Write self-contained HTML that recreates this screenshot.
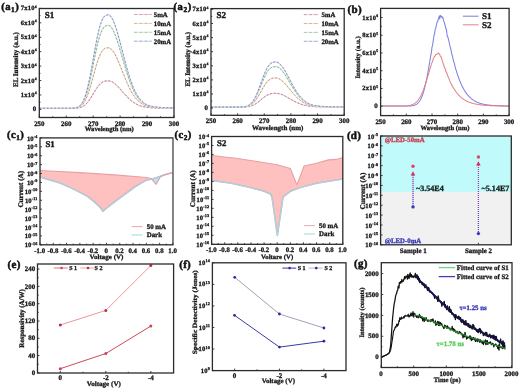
<!DOCTYPE html>
<html><head><meta charset="utf-8"><title>Figure</title>
<style>
html,body{margin:0;padding:0;background:#fff;}
svg{display:block;filter:blur(0.3px);}
svg text{font-family:'Liberation Serif', 'DejaVu Serif', serif;text-rendering:geometricPrecision;}
</style></head>
<body>
<svg width="520" height="389" viewBox="0 0 520 389">
<rect x="0" y="0" width="520" height="389" fill="#ffffff"/>
<polyline points="39.3,108.39 39.97,108.39 40.65,108.39 41.32,108.39 41.99,108.39 42.67,108.39 43.34,108.39 44.01,108.39 44.69,108.39 45.36,108.39 46.03,108.39 46.71,108.39 47.38,108.39 48.06,108.39 48.73,108.39 49.4,108.39 50.08,108.39 50.75,108.39 51.42,108.39 52.1,108.39 52.77,108.39 53.44,108.39 54.12,108.39 54.79,108.39 55.46,108.39 56.14,108.39 56.81,108.39 57.48,108.39 58.16,108.39 58.83,108.39 59.5,108.39 60.18,108.39 60.85,108.39 61.53,108.39 62.2,108.39 62.87,108.39 63.55,108.39 64.22,108.39 64.89,108.39 65.57,108.39 66.24,108.39 66.91,108.39 67.59,108.39 68.26,108.39 68.93,108.38 69.61,108.38 70.28,108.38 70.95,108.37 71.63,108.37 72.3,108.36 72.97,108.34 73.65,108.33 74.32,108.3 75,108.27 75.67,108.23 76.34,108.18 77.02,108.12 77.69,108.03 78.36,107.93 79.04,107.8 79.71,107.65 80.38,107.46 81.06,107.24 81.73,106.97 82.4,106.66 83.08,106.29 83.75,105.87 84.42,105.4 85.1,104.86 85.77,104.26 86.44,103.59 87.12,102.86 87.79,102.07 88.47,101.21 89.14,100.29 89.81,99.32 90.49,98.31 91.16,97.25 91.83,96.17 92.51,95.06 93.18,93.94 93.85,92.81 94.53,91.7 95.2,90.6 95.87,89.53 96.55,88.5 97.22,87.52 97.89,86.59 98.57,85.73 99.24,84.93 99.91,84.21 100.59,83.56 101.26,82.98 101.94,82.48 102.61,82.06 103.28,81.71 103.96,81.43 104.63,81.21 105.3,81.05 105.98,80.94 106.65,80.87 107.32,80.84 108,80.83 108.67,80.84 109.34,80.91 110.02,81.04 110.69,81.24 111.36,81.5 112.04,81.81 112.71,82.18 113.38,82.61 114.06,83.08 114.73,83.6 115.41,84.16 116.08,84.77 116.75,85.4 117.43,86.07 118.1,86.77 118.77,87.49 119.45,88.22 120.12,88.98 120.79,89.74 121.47,90.51 122.14,91.28 122.81,92.05 123.49,92.82 124.16,93.59 124.83,94.34 125.51,95.08 126.18,95.81 126.85,96.52 127.53,97.21 128.2,97.89 128.88,98.54 129.55,99.16 130.22,99.77 130.9,100.35 131.57,100.9 132.24,101.43 132.92,101.93 133.59,102.4 134.26,102.85 134.94,103.27 135.61,103.67 136.28,104.04 136.96,104.39 137.63,104.72 138.3,105.02 138.98,105.3 139.65,105.56 140.32,105.8 141,106.02 141.67,106.23 142.35,106.41 143.02,106.58 143.69,106.74 144.37,106.88 145.04,107.01 145.71,107.13 146.39,107.24 147.06,107.34 147.73,107.42 148.41,107.5 149.08,107.57 149.75,107.64 150.43,107.69 151.1,107.75 151.77,107.79 152.45,107.83 153.12,107.87 153.79,107.91 154.47,107.94 155.14,107.96 155.82,107.99 156.49,108.01 157.16,108.03 157.84,108.05 158.51,108.06 159.18,108.08 159.86,108.09 160.53,108.1 161.2,108.11 161.88,108.12 162.55,108.13 163.22,108.14 163.9,108.15 164.57,108.15 165.24,108.16 165.92,108.17 166.59,108.17 167.26,108.18 167.94,108.18 168.61,108.19 169.29,108.19 169.96,108.2 170.63,108.2 171.31,108.21 171.98,108.21 172.65,108.21 173.33,108.22 174,108.22" fill="none" stroke="#f7d4dc" stroke-width="1.2" stroke-linejoin="round"/>
<polyline points="39.3,108.39 39.97,108.39 40.65,108.39 41.32,108.39 41.99,108.39 42.67,108.39 43.34,108.39 44.01,108.39 44.69,108.39 45.36,108.39 46.03,108.39 46.71,108.39 47.38,108.39 48.06,108.39 48.73,108.39 49.4,108.39 50.08,108.39 50.75,108.39 51.42,108.39 52.1,108.39 52.77,108.39 53.44,108.39 54.12,108.39 54.79,108.39 55.46,108.39 56.14,108.39 56.81,108.39 57.48,108.39 58.16,108.39 58.83,108.39 59.5,108.39 60.18,108.39 60.85,108.39 61.53,108.39 62.2,108.39 62.87,108.39 63.55,108.39 64.22,108.39 64.89,108.39 65.57,108.39 66.24,108.39 66.91,108.39 67.59,108.39 68.26,108.39 68.93,108.38 69.61,108.38 70.28,108.38 70.95,108.37 71.63,108.37 72.3,108.36 72.97,108.34 73.65,108.33 74.32,108.3 75,108.27 75.67,108.23 76.34,108.18 77.02,108.12 77.69,108.03 78.36,107.93 79.04,107.8 79.71,107.65 80.38,107.46 81.06,107.24 81.73,106.97 82.4,106.66 83.08,106.29 83.75,105.87 84.42,105.4 85.1,104.86 85.77,104.26 86.44,103.59 87.12,102.86 87.79,102.07 88.47,101.21 89.14,100.29 89.81,99.32 90.49,98.31 91.16,97.25 91.83,96.17 92.51,95.06 93.18,93.94 93.85,92.81 94.53,91.7 95.2,90.6 95.87,89.53 96.55,88.5 97.22,87.52 97.89,86.59 98.57,85.73 99.24,84.93 99.91,84.21 100.59,83.56 101.26,82.98 101.94,82.48 102.61,82.06 103.28,81.71 103.96,81.43 104.63,81.21 105.3,81.05 105.98,80.94 106.65,80.87 107.32,80.84 108,80.83 108.67,80.84 109.34,80.91 110.02,81.04 110.69,81.24 111.36,81.5 112.04,81.81 112.71,82.18 113.38,82.61 114.06,83.08 114.73,83.6 115.41,84.16 116.08,84.77 116.75,85.4 117.43,86.07 118.1,86.77 118.77,87.49 119.45,88.22 120.12,88.98 120.79,89.74 121.47,90.51 122.14,91.28 122.81,92.05 123.49,92.82 124.16,93.59 124.83,94.34 125.51,95.08 126.18,95.81 126.85,96.52 127.53,97.21 128.2,97.89 128.88,98.54 129.55,99.16 130.22,99.77 130.9,100.35 131.57,100.9 132.24,101.43 132.92,101.93 133.59,102.4 134.26,102.85 134.94,103.27 135.61,103.67 136.28,104.04 136.96,104.39 137.63,104.72 138.3,105.02 138.98,105.3 139.65,105.56 140.32,105.8 141,106.02 141.67,106.23 142.35,106.41 143.02,106.58 143.69,106.74 144.37,106.88 145.04,107.01 145.71,107.13 146.39,107.24 147.06,107.34 147.73,107.42 148.41,107.5 149.08,107.57 149.75,107.64 150.43,107.69 151.1,107.75 151.77,107.79 152.45,107.83 153.12,107.87 153.79,107.91 154.47,107.94 155.14,107.96 155.82,107.99 156.49,108.01 157.16,108.03 157.84,108.05 158.51,108.06 159.18,108.08 159.86,108.09 160.53,108.1 161.2,108.11 161.88,108.12 162.55,108.13 163.22,108.14 163.9,108.15 164.57,108.15 165.24,108.16 165.92,108.17 166.59,108.17 167.26,108.18 167.94,108.18 168.61,108.19 169.29,108.19 169.96,108.2 170.63,108.2 171.31,108.21 171.98,108.21 172.65,108.21 173.33,108.22 174,108.22" fill="none" stroke="#a47c88" stroke-width="1" stroke-linejoin="round" stroke-dasharray="2.0 1.7"/>
<polyline points="39.3,108.39 39.97,108.39 40.65,108.39 41.32,108.39 41.99,108.39 42.67,108.39 43.34,108.39 44.01,108.39 44.69,108.39 45.36,108.39 46.03,108.39 46.71,108.39 47.38,108.39 48.06,108.39 48.73,108.39 49.4,108.39 50.08,108.39 50.75,108.39 51.42,108.39 52.1,108.39 52.77,108.39 53.44,108.39 54.12,108.39 54.79,108.39 55.46,108.39 56.14,108.39 56.81,108.39 57.48,108.39 58.16,108.39 58.83,108.39 59.5,108.39 60.18,108.39 60.85,108.39 61.53,108.39 62.2,108.39 62.87,108.39 63.55,108.39 64.22,108.39 64.89,108.39 65.57,108.39 66.24,108.39 66.91,108.39 67.59,108.38 68.26,108.38 68.93,108.38 69.61,108.37 70.28,108.37 70.95,108.35 71.63,108.34 72.3,108.32 72.97,108.29 73.65,108.25 74.32,108.2 75,108.13 75.67,108.04 76.34,107.93 77.02,107.79 77.69,107.61 78.36,107.38 79.04,107.1 79.71,106.76 80.38,106.34 81.06,105.85 81.73,105.26 82.4,104.58 83.08,103.78 83.75,102.86 84.42,101.81 85.1,100.63 85.77,99.31 86.44,97.84 87.12,96.23 87.79,94.48 88.47,92.6 89.14,90.59 89.81,88.46 90.49,86.22 91.16,83.9 91.83,81.51 92.51,79.07 93.18,76.6 93.85,74.13 94.53,71.68 95.2,69.27 95.87,66.92 96.55,64.66 97.22,62.5 97.89,60.46 98.57,58.56 99.24,56.81 99.91,55.21 100.59,53.78 101.26,52.52 101.94,51.42 102.61,50.49 103.28,49.72 103.96,49.1 104.63,48.62 105.3,48.27 105.98,48.02 106.65,47.88 107.32,47.81 108,47.78 108.67,47.81 109.34,47.96 110.02,48.26 110.69,48.69 111.36,49.25 112.04,49.94 112.71,50.76 113.38,51.69 114.06,52.74 114.73,53.88 115.41,55.12 116.08,56.44 116.75,57.85 117.43,59.32 118.1,60.85 118.77,62.42 119.45,64.04 120.12,65.7 120.79,67.37 121.47,69.07 122.14,70.77 122.81,72.47 123.49,74.16 124.16,75.84 124.83,77.5 125.51,79.13 126.18,80.73 126.85,82.29 127.53,83.81 128.2,85.29 128.88,86.72 129.55,88.1 130.22,89.43 130.9,90.7 131.57,91.92 132.24,93.08 132.92,94.18 133.59,95.22 134.26,96.21 134.94,97.14 135.61,98.01 136.28,98.83 136.96,99.6 137.63,100.31 138.3,100.98 138.98,101.6 139.65,102.17 140.32,102.7 141,103.19 141.67,103.63 142.35,104.04 143.02,104.42 143.69,104.76 144.37,105.08 145.04,105.36 145.71,105.62 146.39,105.86 147.06,106.07 147.73,106.26 148.41,106.44 149.08,106.59 149.75,106.73 150.43,106.86 151.1,106.98 151.77,107.08 152.45,107.17 153.12,107.25 153.79,107.32 154.47,107.39 155.14,107.45 155.82,107.5 156.49,107.55 157.16,107.59 157.84,107.63 158.51,107.67 159.18,107.7 159.86,107.73 160.53,107.75 161.2,107.78 161.88,107.8 162.55,107.82 163.22,107.84 163.9,107.86 164.57,107.87 165.24,107.89 165.92,107.9 166.59,107.91 167.26,107.92 167.94,107.94 168.61,107.95 169.29,107.96 169.96,107.97 170.63,107.98 171.31,107.98 171.98,107.99 172.65,108 173.33,108.01 174,108.02" fill="none" stroke="#fae0cc" stroke-width="1.2" stroke-linejoin="round"/>
<polyline points="39.3,108.39 39.97,108.39 40.65,108.39 41.32,108.39 41.99,108.39 42.67,108.39 43.34,108.39 44.01,108.39 44.69,108.39 45.36,108.39 46.03,108.39 46.71,108.39 47.38,108.39 48.06,108.39 48.73,108.39 49.4,108.39 50.08,108.39 50.75,108.39 51.42,108.39 52.1,108.39 52.77,108.39 53.44,108.39 54.12,108.39 54.79,108.39 55.46,108.39 56.14,108.39 56.81,108.39 57.48,108.39 58.16,108.39 58.83,108.39 59.5,108.39 60.18,108.39 60.85,108.39 61.53,108.39 62.2,108.39 62.87,108.39 63.55,108.39 64.22,108.39 64.89,108.39 65.57,108.39 66.24,108.39 66.91,108.39 67.59,108.38 68.26,108.38 68.93,108.38 69.61,108.37 70.28,108.37 70.95,108.35 71.63,108.34 72.3,108.32 72.97,108.29 73.65,108.25 74.32,108.2 75,108.13 75.67,108.04 76.34,107.93 77.02,107.79 77.69,107.61 78.36,107.38 79.04,107.1 79.71,106.76 80.38,106.34 81.06,105.85 81.73,105.26 82.4,104.58 83.08,103.78 83.75,102.86 84.42,101.81 85.1,100.63 85.77,99.31 86.44,97.84 87.12,96.23 87.79,94.48 88.47,92.6 89.14,90.59 89.81,88.46 90.49,86.22 91.16,83.9 91.83,81.51 92.51,79.07 93.18,76.6 93.85,74.13 94.53,71.68 95.2,69.27 95.87,66.92 96.55,64.66 97.22,62.5 97.89,60.46 98.57,58.56 99.24,56.81 99.91,55.21 100.59,53.78 101.26,52.52 101.94,51.42 102.61,50.49 103.28,49.72 103.96,49.1 104.63,48.62 105.3,48.27 105.98,48.02 106.65,47.88 107.32,47.81 108,47.78 108.67,47.81 109.34,47.96 110.02,48.26 110.69,48.69 111.36,49.25 112.04,49.94 112.71,50.76 113.38,51.69 114.06,52.74 114.73,53.88 115.41,55.12 116.08,56.44 116.75,57.85 117.43,59.32 118.1,60.85 118.77,62.42 119.45,64.04 120.12,65.7 120.79,67.37 121.47,69.07 122.14,70.77 122.81,72.47 123.49,74.16 124.16,75.84 124.83,77.5 125.51,79.13 126.18,80.73 126.85,82.29 127.53,83.81 128.2,85.29 128.88,86.72 129.55,88.1 130.22,89.43 130.9,90.7 131.57,91.92 132.24,93.08 132.92,94.18 133.59,95.22 134.26,96.21 134.94,97.14 135.61,98.01 136.28,98.83 136.96,99.6 137.63,100.31 138.3,100.98 138.98,101.6 139.65,102.17 140.32,102.7 141,103.19 141.67,103.63 142.35,104.04 143.02,104.42 143.69,104.76 144.37,105.08 145.04,105.36 145.71,105.62 146.39,105.86 147.06,106.07 147.73,106.26 148.41,106.44 149.08,106.59 149.75,106.73 150.43,106.86 151.1,106.98 151.77,107.08 152.45,107.17 153.12,107.25 153.79,107.32 154.47,107.39 155.14,107.45 155.82,107.5 156.49,107.55 157.16,107.59 157.84,107.63 158.51,107.67 159.18,107.7 159.86,107.73 160.53,107.75 161.2,107.78 161.88,107.8 162.55,107.82 163.22,107.84 163.9,107.86 164.57,107.87 165.24,107.89 165.92,107.9 166.59,107.91 167.26,107.92 167.94,107.94 168.61,107.95 169.29,107.96 169.96,107.97 170.63,107.98 171.31,107.98 171.98,107.99 172.65,108 173.33,108.01 174,108.02" fill="none" stroke="#b09888" stroke-width="1" stroke-linejoin="round" stroke-dasharray="2.0 1.7"/>
<polyline points="39.3,108.39 39.97,108.39 40.65,108.39 41.32,108.39 41.99,108.39 42.67,108.39 43.34,108.39 44.01,108.39 44.69,108.39 45.36,108.39 46.03,108.39 46.71,108.39 47.38,108.39 48.06,108.39 48.73,108.39 49.4,108.39 50.08,108.39 50.75,108.39 51.42,108.39 52.1,108.39 52.77,108.39 53.44,108.39 54.12,108.39 54.79,108.39 55.46,108.39 56.14,108.39 56.81,108.39 57.48,108.39 58.16,108.39 58.83,108.39 59.5,108.39 60.18,108.39 60.85,108.39 61.53,108.39 62.2,108.39 62.87,108.39 63.55,108.39 64.22,108.39 64.89,108.39 65.57,108.39 66.24,108.39 66.91,108.39 67.59,108.38 68.26,108.38 68.93,108.37 69.61,108.37 70.28,108.36 70.95,108.34 71.63,108.32 72.3,108.29 72.97,108.25 73.65,108.2 74.32,108.13 75,108.04 75.67,107.92 76.34,107.76 77.02,107.56 77.69,107.32 78.36,107.01 79.04,106.62 79.71,106.16 80.38,105.59 81.06,104.91 81.73,104.11 82.4,103.17 83.08,102.08 83.75,100.82 84.42,99.38 85.1,97.76 85.77,95.95 86.44,93.95 87.12,91.75 87.79,89.35 88.47,86.77 89.14,84.01 89.81,81.1 90.49,78.04 91.16,74.86 91.83,71.59 92.51,68.25 93.18,64.87 93.85,61.49 94.53,58.13 95.2,54.83 95.87,51.62 96.55,48.52 97.22,45.56 97.89,42.77 98.57,40.17 99.24,37.77 99.91,35.59 100.59,33.63 101.26,31.9 101.94,30.4 102.61,29.12 103.28,28.07 103.96,27.22 104.63,26.56 105.3,26.08 105.98,25.75 106.65,25.55 107.32,25.45 108,25.42 108.67,25.45 109.34,25.66 110.02,26.07 110.69,26.66 111.36,27.43 112.04,28.38 112.71,29.49 113.38,30.77 114.06,32.2 114.73,33.76 115.41,35.46 116.08,37.27 116.75,39.19 117.43,41.21 118.1,43.3 118.77,45.46 119.45,47.68 120.12,49.94 120.79,52.24 121.47,54.55 122.14,56.88 122.81,59.21 123.49,61.53 124.16,63.82 124.83,66.09 125.51,68.33 126.18,70.52 126.85,72.66 127.53,74.75 128.2,76.77 128.88,78.73 129.55,80.62 130.22,82.43 130.9,84.17 131.57,85.84 132.24,87.42 132.92,88.93 133.59,90.36 134.26,91.71 134.94,92.99 135.61,94.18 136.28,95.3 136.96,96.35 137.63,97.33 138.3,98.24 138.98,99.09 139.65,99.87 140.32,100.6 141,101.26 141.67,101.88 142.35,102.44 143.02,102.96 143.69,103.43 144.37,103.86 145.04,104.25 145.71,104.6 146.39,104.92 147.06,105.22 147.73,105.48 148.41,105.72 149.08,105.93 149.75,106.12 150.43,106.3 151.1,106.45 151.77,106.59 152.45,106.72 153.12,106.83 153.79,106.93 154.47,107.02 155.14,107.1 155.82,107.18 156.49,107.24 157.16,107.3 157.84,107.35 158.51,107.4 159.18,107.45 159.86,107.48 160.53,107.52 161.2,107.55 161.88,107.58 162.55,107.61 163.22,107.63 163.9,107.66 164.57,107.68 165.24,107.7 165.92,107.72 166.59,107.74 167.26,107.75 167.94,107.77 168.61,107.78 169.29,107.8 169.96,107.81 170.63,107.82 171.31,107.83 171.98,107.85 172.65,107.86 173.33,107.87 174,107.88" fill="none" stroke="#d4f3d8" stroke-width="1.2" stroke-linejoin="round"/>
<polyline points="39.3,108.39 39.97,108.39 40.65,108.39 41.32,108.39 41.99,108.39 42.67,108.39 43.34,108.39 44.01,108.39 44.69,108.39 45.36,108.39 46.03,108.39 46.71,108.39 47.38,108.39 48.06,108.39 48.73,108.39 49.4,108.39 50.08,108.39 50.75,108.39 51.42,108.39 52.1,108.39 52.77,108.39 53.44,108.39 54.12,108.39 54.79,108.39 55.46,108.39 56.14,108.39 56.81,108.39 57.48,108.39 58.16,108.39 58.83,108.39 59.5,108.39 60.18,108.39 60.85,108.39 61.53,108.39 62.2,108.39 62.87,108.39 63.55,108.39 64.22,108.39 64.89,108.39 65.57,108.39 66.24,108.39 66.91,108.39 67.59,108.38 68.26,108.38 68.93,108.37 69.61,108.37 70.28,108.36 70.95,108.34 71.63,108.32 72.3,108.29 72.97,108.25 73.65,108.2 74.32,108.13 75,108.04 75.67,107.92 76.34,107.76 77.02,107.56 77.69,107.32 78.36,107.01 79.04,106.62 79.71,106.16 80.38,105.59 81.06,104.91 81.73,104.11 82.4,103.17 83.08,102.08 83.75,100.82 84.42,99.38 85.1,97.76 85.77,95.95 86.44,93.95 87.12,91.75 87.79,89.35 88.47,86.77 89.14,84.01 89.81,81.1 90.49,78.04 91.16,74.86 91.83,71.59 92.51,68.25 93.18,64.87 93.85,61.49 94.53,58.13 95.2,54.83 95.87,51.62 96.55,48.52 97.22,45.56 97.89,42.77 98.57,40.17 99.24,37.77 99.91,35.59 100.59,33.63 101.26,31.9 101.94,30.4 102.61,29.12 103.28,28.07 103.96,27.22 104.63,26.56 105.3,26.08 105.98,25.75 106.65,25.55 107.32,25.45 108,25.42 108.67,25.45 109.34,25.66 110.02,26.07 110.69,26.66 111.36,27.43 112.04,28.38 112.71,29.49 113.38,30.77 114.06,32.2 114.73,33.76 115.41,35.46 116.08,37.27 116.75,39.19 117.43,41.21 118.1,43.3 118.77,45.46 119.45,47.68 120.12,49.94 120.79,52.24 121.47,54.55 122.14,56.88 122.81,59.21 123.49,61.53 124.16,63.82 124.83,66.09 125.51,68.33 126.18,70.52 126.85,72.66 127.53,74.75 128.2,76.77 128.88,78.73 129.55,80.62 130.22,82.43 130.9,84.17 131.57,85.84 132.24,87.42 132.92,88.93 133.59,90.36 134.26,91.71 134.94,92.99 135.61,94.18 136.28,95.3 136.96,96.35 137.63,97.33 138.3,98.24 138.98,99.09 139.65,99.87 140.32,100.6 141,101.26 141.67,101.88 142.35,102.44 143.02,102.96 143.69,103.43 144.37,103.86 145.04,104.25 145.71,104.6 146.39,104.92 147.06,105.22 147.73,105.48 148.41,105.72 149.08,105.93 149.75,106.12 150.43,106.3 151.1,106.45 151.77,106.59 152.45,106.72 153.12,106.83 153.79,106.93 154.47,107.02 155.14,107.1 155.82,107.18 156.49,107.24 157.16,107.3 157.84,107.35 158.51,107.4 159.18,107.45 159.86,107.48 160.53,107.52 161.2,107.55 161.88,107.58 162.55,107.61 163.22,107.63 163.9,107.66 164.57,107.68 165.24,107.7 165.92,107.72 166.59,107.74 167.26,107.75 167.94,107.77 168.61,107.78 169.29,107.8 169.96,107.81 170.63,107.82 171.31,107.83 171.98,107.85 172.65,107.86 173.33,107.87 174,107.88" fill="none" stroke="#84a48a" stroke-width="1" stroke-linejoin="round" stroke-dasharray="2.0 1.7"/>
<polyline points="39.3,108.39 39.97,108.39 40.65,108.39 41.32,108.39 41.99,108.39 42.67,108.39 43.34,108.39 44.01,108.39 44.69,108.39 45.36,108.39 46.03,108.39 46.71,108.39 47.38,108.39 48.06,108.39 48.73,108.39 49.4,108.39 50.08,108.39 50.75,108.39 51.42,108.39 52.1,108.39 52.77,108.39 53.44,108.39 54.12,108.39 54.79,108.39 55.46,108.39 56.14,108.39 56.81,108.39 57.48,108.39 58.16,108.39 58.83,108.39 59.5,108.39 60.18,108.39 60.85,108.39 61.53,108.39 62.2,108.39 62.87,108.39 63.55,108.39 64.22,108.39 64.89,108.39 65.57,108.39 66.24,108.39 66.91,108.38 67.59,108.38 68.26,108.38 68.93,108.37 69.61,108.36 70.28,108.35 70.95,108.34 71.63,108.31 72.3,108.28 72.97,108.23 73.65,108.18 74.32,108.1 75,107.99 75.67,107.86 76.34,107.68 77.02,107.46 77.69,107.18 78.36,106.83 79.04,106.4 79.71,105.87 80.38,105.23 81.06,104.47 81.73,103.57 82.4,102.51 83.08,101.27 83.75,99.86 84.42,98.24 85.1,96.42 85.77,94.38 86.44,92.11 87.12,89.63 87.79,86.93 88.47,84.03 89.14,80.92 89.81,77.63 90.49,74.19 91.16,70.61 91.83,66.92 92.51,63.16 93.18,59.35 93.85,55.54 94.53,51.75 95.2,48.03 95.87,44.41 96.55,40.92 97.22,37.59 97.89,34.44 98.57,31.51 99.24,28.8 99.91,26.34 100.59,24.14 101.26,22.19 101.94,20.49 102.61,19.06 103.28,17.87 103.96,16.91 104.63,16.17 105.3,15.63 105.98,15.25 106.65,15.03 107.32,14.92 108,14.88 108.67,14.92 109.34,15.16 110.02,15.61 110.69,16.28 111.36,17.15 112.04,18.22 112.71,19.48 113.38,20.91 114.06,22.52 114.73,24.29 115.41,26.2 116.08,28.25 116.75,30.41 117.43,32.68 118.1,35.04 118.77,37.47 119.45,39.97 120.12,42.52 120.79,45.11 121.47,47.72 122.14,50.34 122.81,52.97 123.49,55.58 124.16,58.17 124.83,60.73 125.51,63.24 126.18,65.71 126.85,68.12 127.53,70.47 128.2,72.76 128.88,74.96 129.55,77.09 130.22,79.14 130.9,81.1 131.57,82.98 132.24,84.76 132.92,86.46 133.59,88.07 134.26,89.6 134.94,91.03 135.61,92.38 136.28,93.64 136.96,94.83 137.63,95.93 138.3,96.96 138.98,97.91 139.65,98.79 140.32,99.61 141,100.36 141.67,101.05 142.35,101.69 143.02,102.27 143.69,102.8 144.37,103.28 145.04,103.72 145.71,104.12 146.39,104.48 147.06,104.81 147.73,105.11 148.41,105.38 149.08,105.62 149.75,105.84 150.43,106.03 151.1,106.21 151.77,106.36 152.45,106.51 153.12,106.63 153.79,106.75 154.47,106.85 155.14,106.94 155.82,107.02 156.49,107.1 157.16,107.16 157.84,107.22 158.51,107.28 159.18,107.33 159.86,107.37 160.53,107.41 161.2,107.45 161.88,107.48 162.55,107.51 163.22,107.54 163.9,107.57 164.57,107.59 165.24,107.61 165.92,107.63 166.59,107.65 167.26,107.67 167.94,107.69 168.61,107.71 169.29,107.72 169.96,107.74 170.63,107.75 171.31,107.76 171.98,107.78 172.65,107.79 173.33,107.8 174,107.81" fill="none" stroke="#d6dbf6" stroke-width="1.2" stroke-linejoin="round"/>
<polyline points="39.3,108.39 39.97,108.39 40.65,108.39 41.32,108.39 41.99,108.39 42.67,108.39 43.34,108.39 44.01,108.39 44.69,108.39 45.36,108.39 46.03,108.39 46.71,108.39 47.38,108.39 48.06,108.39 48.73,108.39 49.4,108.39 50.08,108.39 50.75,108.39 51.42,108.39 52.1,108.39 52.77,108.39 53.44,108.39 54.12,108.39 54.79,108.39 55.46,108.39 56.14,108.39 56.81,108.39 57.48,108.39 58.16,108.39 58.83,108.39 59.5,108.39 60.18,108.39 60.85,108.39 61.53,108.39 62.2,108.39 62.87,108.39 63.55,108.39 64.22,108.39 64.89,108.39 65.57,108.39 66.24,108.39 66.91,108.38 67.59,108.38 68.26,108.38 68.93,108.37 69.61,108.36 70.28,108.35 70.95,108.34 71.63,108.31 72.3,108.28 72.97,108.23 73.65,108.18 74.32,108.1 75,107.99 75.67,107.86 76.34,107.68 77.02,107.46 77.69,107.18 78.36,106.83 79.04,106.4 79.71,105.87 80.38,105.23 81.06,104.47 81.73,103.57 82.4,102.51 83.08,101.27 83.75,99.86 84.42,98.24 85.1,96.42 85.77,94.38 86.44,92.11 87.12,89.63 87.79,86.93 88.47,84.03 89.14,80.92 89.81,77.63 90.49,74.19 91.16,70.61 91.83,66.92 92.51,63.16 93.18,59.35 93.85,55.54 94.53,51.75 95.2,48.03 95.87,44.41 96.55,40.92 97.22,37.59 97.89,34.44 98.57,31.51 99.24,28.8 99.91,26.34 100.59,24.14 101.26,22.19 101.94,20.49 102.61,19.06 103.28,17.87 103.96,16.91 104.63,16.17 105.3,15.63 105.98,15.25 106.65,15.03 107.32,14.92 108,14.88 108.67,14.92 109.34,15.16 110.02,15.61 110.69,16.28 111.36,17.15 112.04,18.22 112.71,19.48 113.38,20.91 114.06,22.52 114.73,24.29 115.41,26.2 116.08,28.25 116.75,30.41 117.43,32.68 118.1,35.04 118.77,37.47 119.45,39.97 120.12,42.52 120.79,45.11 121.47,47.72 122.14,50.34 122.81,52.97 123.49,55.58 124.16,58.17 124.83,60.73 125.51,63.24 126.18,65.71 126.85,68.12 127.53,70.47 128.2,72.76 128.88,74.96 129.55,77.09 130.22,79.14 130.9,81.1 131.57,82.98 132.24,84.76 132.92,86.46 133.59,88.07 134.26,89.6 134.94,91.03 135.61,92.38 136.28,93.64 136.96,94.83 137.63,95.93 138.3,96.96 138.98,97.91 139.65,98.79 140.32,99.61 141,100.36 141.67,101.05 142.35,101.69 143.02,102.27 143.69,102.8 144.37,103.28 145.04,103.72 145.71,104.12 146.39,104.48 147.06,104.81 147.73,105.11 148.41,105.38 149.08,105.62 149.75,105.84 150.43,106.03 151.1,106.21 151.77,106.36 152.45,106.51 153.12,106.63 153.79,106.75 154.47,106.85 155.14,106.94 155.82,107.02 156.49,107.1 157.16,107.16 157.84,107.22 158.51,107.28 159.18,107.33 159.86,107.37 160.53,107.41 161.2,107.45 161.88,107.48 162.55,107.51 163.22,107.54 163.9,107.57 164.57,107.59 165.24,107.61 165.92,107.63 166.59,107.65 167.26,107.67 167.94,107.69 168.61,107.71 169.29,107.72 169.96,107.74 170.63,107.75 171.31,107.76 171.98,107.78 172.65,107.79 173.33,107.8 174,107.81" fill="none" stroke="#8088ac" stroke-width="1" stroke-linejoin="round" stroke-dasharray="2.0 1.7"/>
<rect x="39.3" y="8.5" width="134.7" height="109" fill="none" stroke="#2b2b2b" stroke-width="1.3"/>
<line x1="39.3" y1="117.5" x2="39.3" y2="115.5" stroke="#2b2b2b" stroke-width="0.9"/>
<line x1="66.24" y1="117.5" x2="66.24" y2="115.5" stroke="#2b2b2b" stroke-width="0.9"/>
<line x1="93.18" y1="117.5" x2="93.18" y2="115.5" stroke="#2b2b2b" stroke-width="0.9"/>
<line x1="120.12" y1="117.5" x2="120.12" y2="115.5" stroke="#2b2b2b" stroke-width="0.9"/>
<line x1="147.06" y1="117.5" x2="147.06" y2="115.5" stroke="#2b2b2b" stroke-width="0.9"/>
<line x1="174" y1="117.5" x2="174" y2="115.5" stroke="#2b2b2b" stroke-width="0.9"/>
<line x1="52.77" y1="117.5" x2="52.77" y2="116.3" stroke="#2b2b2b" stroke-width="0.9"/>
<line x1="79.71" y1="117.5" x2="79.71" y2="116.3" stroke="#2b2b2b" stroke-width="0.9"/>
<line x1="106.65" y1="117.5" x2="106.65" y2="116.3" stroke="#2b2b2b" stroke-width="0.9"/>
<line x1="133.59" y1="117.5" x2="133.59" y2="116.3" stroke="#2b2b2b" stroke-width="0.9"/>
<line x1="160.53" y1="117.5" x2="160.53" y2="116.3" stroke="#2b2b2b" stroke-width="0.9"/>
<line x1="39.3" y1="109.4" x2="41.3" y2="109.4" stroke="#2b2b2b" stroke-width="0.9"/>
<line x1="39.3" y1="94.97" x2="41.3" y2="94.97" stroke="#2b2b2b" stroke-width="0.9"/>
<line x1="39.3" y1="80.54" x2="41.3" y2="80.54" stroke="#2b2b2b" stroke-width="0.9"/>
<line x1="39.3" y1="66.11" x2="41.3" y2="66.11" stroke="#2b2b2b" stroke-width="0.9"/>
<line x1="39.3" y1="51.68" x2="41.3" y2="51.68" stroke="#2b2b2b" stroke-width="0.9"/>
<line x1="39.3" y1="37.25" x2="41.3" y2="37.25" stroke="#2b2b2b" stroke-width="0.9"/>
<line x1="39.3" y1="22.82" x2="41.3" y2="22.82" stroke="#2b2b2b" stroke-width="0.9"/>
<line x1="39.3" y1="8.39" x2="41.3" y2="8.39" stroke="#2b2b2b" stroke-width="0.9"/>
<line x1="39.3" y1="102.19" x2="40.5" y2="102.19" stroke="#2b2b2b" stroke-width="0.9"/>
<line x1="39.3" y1="87.76" x2="40.5" y2="87.76" stroke="#2b2b2b" stroke-width="0.9"/>
<line x1="39.3" y1="73.33" x2="40.5" y2="73.33" stroke="#2b2b2b" stroke-width="0.9"/>
<line x1="39.3" y1="58.9" x2="40.5" y2="58.9" stroke="#2b2b2b" stroke-width="0.9"/>
<line x1="39.3" y1="44.47" x2="40.5" y2="44.47" stroke="#2b2b2b" stroke-width="0.9"/>
<line x1="39.3" y1="30.04" x2="40.5" y2="30.04" stroke="#2b2b2b" stroke-width="0.9"/>
<line x1="39.3" y1="15.61" x2="40.5" y2="15.61" stroke="#2b2b2b" stroke-width="0.9"/>
<text x="39.3" y="125.5" font-size="6.9" text-anchor="middle" fill="#1a1a1a" stroke="#1a1a1a" stroke-width="0.3" font-weight="bold">250</text>
<text x="66.24" y="125.5" font-size="6.9" text-anchor="middle" fill="#1a1a1a" stroke="#1a1a1a" stroke-width="0.3" font-weight="bold">260</text>
<text x="93.18" y="125.5" font-size="6.9" text-anchor="middle" fill="#1a1a1a" stroke="#1a1a1a" stroke-width="0.3" font-weight="bold">270</text>
<text x="120.12" y="125.5" font-size="6.9" text-anchor="middle" fill="#1a1a1a" stroke="#1a1a1a" stroke-width="0.3" font-weight="bold">280</text>
<text x="147.06" y="125.5" font-size="6.9" text-anchor="middle" fill="#1a1a1a" stroke="#1a1a1a" stroke-width="0.3" font-weight="bold">290</text>
<text x="174" y="125.5" font-size="6.9" text-anchor="middle" fill="#1a1a1a" stroke="#1a1a1a" stroke-width="0.3" font-weight="bold">300</text>
<text x="36.3" y="111.4" font-size="6.9" text-anchor="end" fill="#1a1a1a" stroke="#1a1a1a" stroke-width="0.3" font-weight="bold">0</text>
<text x="37" y="96.97" font-size="6.5" text-anchor="end" fill="#1a1a1a" stroke="#1a1a1a" stroke-width="0.3" font-weight="bold" letter-spacing="0.25">1x10<tspan dy="-2.6" font-size="3.8">4</tspan></text>
<text x="37" y="82.54" font-size="6.5" text-anchor="end" fill="#1a1a1a" stroke="#1a1a1a" stroke-width="0.3" font-weight="bold" letter-spacing="0.25">2x10<tspan dy="-2.6" font-size="3.8">4</tspan></text>
<text x="37" y="68.11" font-size="6.5" text-anchor="end" fill="#1a1a1a" stroke="#1a1a1a" stroke-width="0.3" font-weight="bold" letter-spacing="0.25">3x10<tspan dy="-2.6" font-size="3.8">4</tspan></text>
<text x="37" y="53.68" font-size="6.5" text-anchor="end" fill="#1a1a1a" stroke="#1a1a1a" stroke-width="0.3" font-weight="bold" letter-spacing="0.25">4x10<tspan dy="-2.6" font-size="3.8">4</tspan></text>
<text x="37" y="39.25" font-size="6.5" text-anchor="end" fill="#1a1a1a" stroke="#1a1a1a" stroke-width="0.3" font-weight="bold" letter-spacing="0.25">5x10<tspan dy="-2.6" font-size="3.8">4</tspan></text>
<text x="37" y="24.82" font-size="6.5" text-anchor="end" fill="#1a1a1a" stroke="#1a1a1a" stroke-width="0.3" font-weight="bold" letter-spacing="0.25">6x10<tspan dy="-2.6" font-size="3.8">4</tspan></text>
<text x="37" y="10.39" font-size="6.5" text-anchor="end" fill="#1a1a1a" stroke="#1a1a1a" stroke-width="0.3" font-weight="bold" letter-spacing="0.25">7x10<tspan dy="-2.6" font-size="3.8">4</tspan></text>
<text x="109.3" y="131" font-size="6.6" text-anchor="middle" fill="#1a1a1a" stroke="#1a1a1a" stroke-width="0.3" font-weight="bold" textLength="49" lengthAdjust="spacingAndGlyphs">Wavelength (nm)</text>
<text x="18.2" y="59.6" font-size="7.05" text-anchor="middle" fill="#1a1a1a" stroke="#1a1a1a" stroke-width="0.3" font-weight="bold" transform="rotate(-90 18.2 59.6)">EL Intensity (a.u.)</text>
<text x="44.7" y="17.8" font-size="9" text-anchor="start" fill="#1a1a1a" stroke="#1a1a1a" stroke-width="0.4" font-weight="bold">S1</text>
<line x1="134.1" y1="14.5" x2="151.6" y2="14.5" stroke="#f7d4dc" stroke-width="1.1"/>
<line x1="134.1" y1="14.5" x2="151.6" y2="14.5" stroke="#a47c88" stroke-width="0.9" stroke-dasharray="3 2.2" opacity="0.6"/>
<text x="153.8" y="16.9" font-size="6.8" text-anchor="start" fill="#1a1a1a" stroke="#1a1a1a" stroke-width="0.3" font-weight="bold">5mA</text>
<line x1="134.1" y1="23.4" x2="151.6" y2="23.4" stroke="#fae0cc" stroke-width="1.1"/>
<line x1="134.1" y1="23.4" x2="151.6" y2="23.4" stroke="#b09888" stroke-width="0.9" stroke-dasharray="3 2.2" opacity="0.6"/>
<text x="153.8" y="25.8" font-size="6.8" text-anchor="start" fill="#1a1a1a" stroke="#1a1a1a" stroke-width="0.3" font-weight="bold">10mA</text>
<line x1="134.1" y1="32.3" x2="151.6" y2="32.3" stroke="#d4f3d8" stroke-width="1.1"/>
<line x1="134.1" y1="32.3" x2="151.6" y2="32.3" stroke="#84a48a" stroke-width="0.9" stroke-dasharray="3 2.2" opacity="0.6"/>
<text x="153.8" y="34.7" font-size="6.8" text-anchor="start" fill="#1a1a1a" stroke="#1a1a1a" stroke-width="0.3" font-weight="bold">15mA</text>
<line x1="134.1" y1="41.2" x2="151.6" y2="41.2" stroke="#d6dbf6" stroke-width="1.1"/>
<line x1="134.1" y1="41.2" x2="151.6" y2="41.2" stroke="#8088ac" stroke-width="0.9" stroke-dasharray="3 2.2" opacity="0.6"/>
<text x="153.8" y="43.6" font-size="6.8" text-anchor="start" fill="#1a1a1a" stroke="#1a1a1a" stroke-width="0.3" font-weight="bold">20mA</text>
<polyline points="211,107.11 211.67,107.11 212.33,107.11 213,107.11 213.66,107.11 214.33,107.11 215,107.11 215.66,107.11 216.33,107.11 216.99,107.11 217.66,107.11 218.33,107.11 218.99,107.11 219.66,107.11 220.32,107.11 220.99,107.11 221.66,107.11 222.32,107.11 222.99,107.11 223.65,107.11 224.32,107.11 224.99,107.11 225.65,107.11 226.32,107.11 226.98,107.11 227.65,107.11 228.32,107.11 228.98,107.11 229.65,107.11 230.31,107.11 230.98,107.11 231.65,107.11 232.31,107.11 232.98,107.11 233.64,107.11 234.31,107.11 234.98,107.11 235.64,107.11 236.31,107.11 236.97,107.11 237.64,107.11 238.31,107.11 238.97,107.1 239.64,107.1 240.3,107.1 240.97,107.09 241.64,107.08 242.3,107.07 242.97,107.05 243.63,107.03 244.3,107 244.97,106.97 245.63,106.92 246.3,106.87 246.96,106.8 247.63,106.72 248.3,106.63 248.96,106.51 249.63,106.37 250.29,106.21 250.96,106.02 251.63,105.81 252.29,105.56 252.96,105.29 253.62,104.98 254.29,104.64 254.96,104.26 255.62,103.86 256.29,103.42 256.95,102.96 257.62,102.47 258.29,101.95 258.95,101.42 259.62,100.87 260.28,100.32 260.95,99.75 261.62,99.19 262.28,98.63 262.95,98.09 263.61,97.55 264.28,97.04 264.95,96.55 265.61,96.1 266.28,95.67 266.94,95.28 267.61,94.92 268.28,94.6 268.94,94.32 269.61,94.08 270.27,93.87 270.94,93.71 271.61,93.57 272.27,93.47 272.94,93.39 273.6,93.34 274.27,93.31 274.94,93.3 275.6,93.3 276.27,93.31 276.93,93.35 277.6,93.42 278.27,93.52 278.93,93.66 279.6,93.82 280.26,94.01 280.93,94.23 281.6,94.47 282.26,94.74 282.93,95.03 283.59,95.33 284.26,95.66 284.93,95.99 285.59,96.34 286.26,96.71 286.92,97.08 287.59,97.46 288.26,97.84 288.92,98.22 289.59,98.61 290.25,99 290.92,99.39 291.59,99.77 292.25,100.14 292.92,100.51 293.58,100.88 294.25,101.23 294.92,101.58 295.58,101.91 296.25,102.24 296.91,102.55 297.58,102.85 298.25,103.14 298.91,103.41 299.58,103.67 300.24,103.92 300.91,104.16 301.58,104.38 302.24,104.59 302.91,104.79 303.57,104.97 304.24,105.14 304.91,105.3 305.57,105.45 306.24,105.59 306.9,105.72 307.57,105.84 308.24,105.95 308.9,106.05 309.57,106.14 310.23,106.22 310.9,106.3 311.57,106.37 312.23,106.44 312.9,106.49 313.56,106.55 314.23,106.59 314.9,106.64 315.56,106.68 316.23,106.71 316.89,106.74 317.56,106.77 318.23,106.8 318.89,106.82 319.56,106.84 320.22,106.86 320.89,106.87 321.56,106.89 322.22,106.9 322.89,106.91 323.55,106.92 324.22,106.93 324.89,106.94 325.55,106.95 326.22,106.96 326.88,106.96 327.55,106.97 328.22,106.97 328.88,106.98 329.55,106.98 330.21,106.99 330.88,106.99 331.55,107 332.21,107 332.88,107 333.54,107 334.21,107.01 334.88,107.01 335.54,107.01 336.21,107.01 336.87,107.02 337.54,107.02 338.21,107.02 338.87,107.02 339.54,107.02 340.2,107.03 340.87,107.03 341.54,107.03 342.2,107.03 342.87,107.03 343.53,107.03 344.2,107.04" fill="none" stroke="#f7d4dc" stroke-width="1.2" stroke-linejoin="round"/>
<polyline points="211,107.11 211.67,107.11 212.33,107.11 213,107.11 213.66,107.11 214.33,107.11 215,107.11 215.66,107.11 216.33,107.11 216.99,107.11 217.66,107.11 218.33,107.11 218.99,107.11 219.66,107.11 220.32,107.11 220.99,107.11 221.66,107.11 222.32,107.11 222.99,107.11 223.65,107.11 224.32,107.11 224.99,107.11 225.65,107.11 226.32,107.11 226.98,107.11 227.65,107.11 228.32,107.11 228.98,107.11 229.65,107.11 230.31,107.11 230.98,107.11 231.65,107.11 232.31,107.11 232.98,107.11 233.64,107.11 234.31,107.11 234.98,107.11 235.64,107.11 236.31,107.11 236.97,107.11 237.64,107.11 238.31,107.11 238.97,107.1 239.64,107.1 240.3,107.1 240.97,107.09 241.64,107.08 242.3,107.07 242.97,107.05 243.63,107.03 244.3,107 244.97,106.97 245.63,106.92 246.3,106.87 246.96,106.8 247.63,106.72 248.3,106.63 248.96,106.51 249.63,106.37 250.29,106.21 250.96,106.02 251.63,105.81 252.29,105.56 252.96,105.29 253.62,104.98 254.29,104.64 254.96,104.26 255.62,103.86 256.29,103.42 256.95,102.96 257.62,102.47 258.29,101.95 258.95,101.42 259.62,100.87 260.28,100.32 260.95,99.75 261.62,99.19 262.28,98.63 262.95,98.09 263.61,97.55 264.28,97.04 264.95,96.55 265.61,96.1 266.28,95.67 266.94,95.28 267.61,94.92 268.28,94.6 268.94,94.32 269.61,94.08 270.27,93.87 270.94,93.71 271.61,93.57 272.27,93.47 272.94,93.39 273.6,93.34 274.27,93.31 274.94,93.3 275.6,93.3 276.27,93.31 276.93,93.35 277.6,93.42 278.27,93.52 278.93,93.66 279.6,93.82 280.26,94.01 280.93,94.23 281.6,94.47 282.26,94.74 282.93,95.03 283.59,95.33 284.26,95.66 284.93,95.99 285.59,96.34 286.26,96.71 286.92,97.08 287.59,97.46 288.26,97.84 288.92,98.22 289.59,98.61 290.25,99 290.92,99.39 291.59,99.77 292.25,100.14 292.92,100.51 293.58,100.88 294.25,101.23 294.92,101.58 295.58,101.91 296.25,102.24 296.91,102.55 297.58,102.85 298.25,103.14 298.91,103.41 299.58,103.67 300.24,103.92 300.91,104.16 301.58,104.38 302.24,104.59 302.91,104.79 303.57,104.97 304.24,105.14 304.91,105.3 305.57,105.45 306.24,105.59 306.9,105.72 307.57,105.84 308.24,105.95 308.9,106.05 309.57,106.14 310.23,106.22 310.9,106.3 311.57,106.37 312.23,106.44 312.9,106.49 313.56,106.55 314.23,106.59 314.9,106.64 315.56,106.68 316.23,106.71 316.89,106.74 317.56,106.77 318.23,106.8 318.89,106.82 319.56,106.84 320.22,106.86 320.89,106.87 321.56,106.89 322.22,106.9 322.89,106.91 323.55,106.92 324.22,106.93 324.89,106.94 325.55,106.95 326.22,106.96 326.88,106.96 327.55,106.97 328.22,106.97 328.88,106.98 329.55,106.98 330.21,106.99 330.88,106.99 331.55,107 332.21,107 332.88,107 333.54,107 334.21,107.01 334.88,107.01 335.54,107.01 336.21,107.01 336.87,107.02 337.54,107.02 338.21,107.02 338.87,107.02 339.54,107.02 340.2,107.03 340.87,107.03 341.54,107.03 342.2,107.03 342.87,107.03 343.53,107.03 344.2,107.04" fill="none" stroke="#a47c88" stroke-width="1" stroke-linejoin="round" stroke-dasharray="2.0 1.7"/>
<polyline points="211,107.11 211.67,107.11 212.33,107.11 213,107.11 213.66,107.11 214.33,107.11 215,107.11 215.66,107.11 216.33,107.11 216.99,107.11 217.66,107.11 218.33,107.11 218.99,107.11 219.66,107.11 220.32,107.11 220.99,107.11 221.66,107.11 222.32,107.11 222.99,107.11 223.65,107.11 224.32,107.11 224.99,107.11 225.65,107.11 226.32,107.11 226.98,107.11 227.65,107.11 228.32,107.11 228.98,107.11 229.65,107.11 230.31,107.11 230.98,107.11 231.65,107.11 232.31,107.11 232.98,107.11 233.64,107.11 234.31,107.11 234.98,107.11 235.64,107.11 236.31,107.11 236.97,107.11 237.64,107.1 238.31,107.1 238.97,107.09 239.64,107.09 240.3,107.08 240.97,107.06 241.64,107.04 242.3,107.02 242.97,106.98 243.63,106.94 244.3,106.88 244.97,106.81 245.63,106.72 246.3,106.6 246.96,106.46 247.63,106.29 248.3,106.08 248.96,105.84 249.63,105.55 250.29,105.2 250.96,104.81 251.63,104.35 252.29,103.84 252.96,103.25 253.62,102.6 254.29,101.88 254.96,101.1 255.62,100.24 256.29,99.32 256.95,98.34 257.62,97.3 258.29,96.22 258.95,95.09 259.62,93.93 260.28,92.76 260.95,91.57 261.62,90.38 262.28,89.2 262.95,88.04 263.61,86.92 264.28,85.84 264.95,84.81 265.61,83.84 266.28,82.94 266.94,82.11 267.61,81.36 268.28,80.69 268.94,80.09 269.61,79.58 270.27,79.15 270.94,78.79 271.61,78.51 272.27,78.29 272.94,78.13 273.6,78.02 274.27,77.96 274.94,77.93 275.6,77.93 276.27,77.95 276.93,78.04 277.6,78.19 278.27,78.41 278.93,78.69 279.6,79.04 280.26,79.44 280.93,79.9 281.6,80.42 282.26,80.98 282.93,81.58 283.59,82.23 284.26,82.91 284.93,83.62 285.59,84.37 286.26,85.13 286.92,85.92 287.59,86.71 288.26,87.52 288.92,88.34 289.59,89.16 290.25,89.98 290.92,90.79 291.59,91.6 292.25,92.39 292.92,93.18 293.58,93.94 294.25,94.69 294.92,95.42 295.58,96.13 296.25,96.81 296.91,97.47 297.58,98.11 298.25,98.71 298.91,99.29 299.58,99.85 300.24,100.37 300.91,100.87 301.58,101.34 302.24,101.78 302.91,102.2 303.57,102.59 304.24,102.95 304.91,103.29 305.57,103.61 306.24,103.9 306.9,104.17 307.57,104.42 308.24,104.65 308.9,104.86 309.57,105.06 310.23,105.24 310.9,105.4 311.57,105.55 312.23,105.68 312.9,105.8 313.56,105.92 314.23,106.02 314.9,106.11 315.56,106.19 316.23,106.26 316.89,106.33 317.56,106.39 318.23,106.44 318.89,106.49 319.56,106.53 320.22,106.57 320.89,106.61 321.56,106.64 322.22,106.67 322.89,106.69 323.55,106.71 324.22,106.73 324.89,106.75 325.55,106.77 326.22,106.78 326.88,106.8 327.55,106.81 328.22,106.82 328.88,106.83 329.55,106.84 330.21,106.85 330.88,106.86 331.55,106.86 332.21,106.87 332.88,106.88 333.54,106.88 334.21,106.89 334.88,106.9 335.54,106.9 336.21,106.91 336.87,106.91 337.54,106.91 338.21,106.92 338.87,106.92 339.54,106.93 340.2,106.93 340.87,106.93 341.54,106.94 342.2,106.94 342.87,106.94 343.53,106.95 344.2,106.95" fill="none" stroke="#fae0cc" stroke-width="1.2" stroke-linejoin="round"/>
<polyline points="211,107.11 211.67,107.11 212.33,107.11 213,107.11 213.66,107.11 214.33,107.11 215,107.11 215.66,107.11 216.33,107.11 216.99,107.11 217.66,107.11 218.33,107.11 218.99,107.11 219.66,107.11 220.32,107.11 220.99,107.11 221.66,107.11 222.32,107.11 222.99,107.11 223.65,107.11 224.32,107.11 224.99,107.11 225.65,107.11 226.32,107.11 226.98,107.11 227.65,107.11 228.32,107.11 228.98,107.11 229.65,107.11 230.31,107.11 230.98,107.11 231.65,107.11 232.31,107.11 232.98,107.11 233.64,107.11 234.31,107.11 234.98,107.11 235.64,107.11 236.31,107.11 236.97,107.11 237.64,107.1 238.31,107.1 238.97,107.09 239.64,107.09 240.3,107.08 240.97,107.06 241.64,107.04 242.3,107.02 242.97,106.98 243.63,106.94 244.3,106.88 244.97,106.81 245.63,106.72 246.3,106.6 246.96,106.46 247.63,106.29 248.3,106.08 248.96,105.84 249.63,105.55 250.29,105.2 250.96,104.81 251.63,104.35 252.29,103.84 252.96,103.25 253.62,102.6 254.29,101.88 254.96,101.1 255.62,100.24 256.29,99.32 256.95,98.34 257.62,97.3 258.29,96.22 258.95,95.09 259.62,93.93 260.28,92.76 260.95,91.57 261.62,90.38 262.28,89.2 262.95,88.04 263.61,86.92 264.28,85.84 264.95,84.81 265.61,83.84 266.28,82.94 266.94,82.11 267.61,81.36 268.28,80.69 268.94,80.09 269.61,79.58 270.27,79.15 270.94,78.79 271.61,78.51 272.27,78.29 272.94,78.13 273.6,78.02 274.27,77.96 274.94,77.93 275.6,77.93 276.27,77.95 276.93,78.04 277.6,78.19 278.27,78.41 278.93,78.69 279.6,79.04 280.26,79.44 280.93,79.9 281.6,80.42 282.26,80.98 282.93,81.58 283.59,82.23 284.26,82.91 284.93,83.62 285.59,84.37 286.26,85.13 286.92,85.92 287.59,86.71 288.26,87.52 288.92,88.34 289.59,89.16 290.25,89.98 290.92,90.79 291.59,91.6 292.25,92.39 292.92,93.18 293.58,93.94 294.25,94.69 294.92,95.42 295.58,96.13 296.25,96.81 296.91,97.47 297.58,98.11 298.25,98.71 298.91,99.29 299.58,99.85 300.24,100.37 300.91,100.87 301.58,101.34 302.24,101.78 302.91,102.2 303.57,102.59 304.24,102.95 304.91,103.29 305.57,103.61 306.24,103.9 306.9,104.17 307.57,104.42 308.24,104.65 308.9,104.86 309.57,105.06 310.23,105.24 310.9,105.4 311.57,105.55 312.23,105.68 312.9,105.8 313.56,105.92 314.23,106.02 314.9,106.11 315.56,106.19 316.23,106.26 316.89,106.33 317.56,106.39 318.23,106.44 318.89,106.49 319.56,106.53 320.22,106.57 320.89,106.61 321.56,106.64 322.22,106.67 322.89,106.69 323.55,106.71 324.22,106.73 324.89,106.75 325.55,106.77 326.22,106.78 326.88,106.8 327.55,106.81 328.22,106.82 328.88,106.83 329.55,106.84 330.21,106.85 330.88,106.86 331.55,106.86 332.21,106.87 332.88,106.88 333.54,106.88 334.21,106.89 334.88,106.9 335.54,106.9 336.21,106.91 336.87,106.91 337.54,106.91 338.21,106.92 338.87,106.92 339.54,106.93 340.2,106.93 340.87,106.93 341.54,106.94 342.2,106.94 342.87,106.94 343.53,106.95 344.2,106.95" fill="none" stroke="#b09888" stroke-width="1" stroke-linejoin="round" stroke-dasharray="2.0 1.7"/>
<polyline points="211,107.11 211.67,107.11 212.33,107.11 213,107.11 213.66,107.11 214.33,107.11 215,107.11 215.66,107.11 216.33,107.11 216.99,107.11 217.66,107.11 218.33,107.11 218.99,107.11 219.66,107.11 220.32,107.11 220.99,107.11 221.66,107.11 222.32,107.11 222.99,107.11 223.65,107.11 224.32,107.11 224.99,107.11 225.65,107.11 226.32,107.11 226.98,107.11 227.65,107.11 228.32,107.11 228.98,107.11 229.65,107.11 230.31,107.11 230.98,107.11 231.65,107.11 232.31,107.11 232.98,107.11 233.64,107.11 234.31,107.11 234.98,107.11 235.64,107.11 236.31,107.11 236.97,107.1 237.64,107.1 238.31,107.1 238.97,107.09 239.64,107.08 240.3,107.06 240.97,107.04 241.64,107.01 242.3,106.98 242.97,106.93 243.63,106.87 244.3,106.79 244.97,106.69 245.63,106.56 246.3,106.4 246.96,106.21 247.63,105.97 248.3,105.69 248.96,105.34 249.63,104.94 250.29,104.47 250.96,103.92 251.63,103.29 252.29,102.57 252.96,101.76 253.62,100.86 254.29,99.86 254.96,98.77 255.62,97.58 256.29,96.31 256.95,94.95 257.62,93.51 258.29,92.01 258.95,90.45 259.62,88.84 260.28,87.21 260.95,85.56 261.62,83.91 262.28,82.28 262.95,80.67 263.61,79.12 264.28,77.62 264.95,76.19 265.61,74.85 266.28,73.6 266.94,72.45 267.61,71.41 268.28,70.47 268.94,69.65 269.61,68.94 270.27,68.34 270.94,67.85 271.61,67.45 272.27,67.15 272.94,66.93 273.6,66.78 274.27,66.7 274.94,66.66 275.6,66.65 276.27,66.68 276.93,66.8 277.6,67.01 278.27,67.32 278.93,67.71 279.6,68.19 280.26,68.75 280.93,69.39 281.6,70.1 282.26,70.88 282.93,71.72 283.59,72.61 284.26,73.56 284.93,74.55 285.59,75.58 286.26,76.64 286.92,77.72 287.59,78.83 288.26,79.95 288.92,81.08 289.59,82.22 290.25,83.35 290.92,84.48 291.59,85.6 292.25,86.7 292.92,87.79 293.58,88.85 294.25,89.89 294.92,90.9 295.58,91.88 296.25,92.83 296.91,93.75 297.58,94.63 298.25,95.47 298.91,96.27 299.58,97.04 300.24,97.77 300.91,98.46 301.58,99.11 302.24,99.72 302.91,100.3 303.57,100.84 304.24,101.34 304.91,101.81 305.57,102.25 306.24,102.66 306.9,103.03 307.57,103.38 308.24,103.7 308.9,103.99 309.57,104.26 310.23,104.51 310.9,104.74 311.57,104.94 312.23,105.13 312.9,105.3 313.56,105.45 314.23,105.59 314.9,105.72 315.56,105.83 316.23,105.93 316.89,106.03 317.56,106.11 318.23,106.18 318.89,106.25 319.56,106.31 320.22,106.36 320.89,106.41 321.56,106.45 322.22,106.49 322.89,106.53 323.55,106.56 324.22,106.59 324.89,106.61 325.55,106.64 326.22,106.66 326.88,106.67 327.55,106.69 328.22,106.71 328.88,106.72 329.55,106.73 330.21,106.75 330.88,106.76 331.55,106.77 332.21,106.78 332.88,106.79 333.54,106.8 334.21,106.8 334.88,106.81 335.54,106.82 336.21,106.82 336.87,106.83 337.54,106.84 338.21,106.84 338.87,106.85 339.54,106.85 340.2,106.86 340.87,106.86 341.54,106.87 342.2,106.87 342.87,106.88 343.53,106.88 344.2,106.89" fill="none" stroke="#d4f3d8" stroke-width="1.2" stroke-linejoin="round"/>
<polyline points="211,107.11 211.67,107.11 212.33,107.11 213,107.11 213.66,107.11 214.33,107.11 215,107.11 215.66,107.11 216.33,107.11 216.99,107.11 217.66,107.11 218.33,107.11 218.99,107.11 219.66,107.11 220.32,107.11 220.99,107.11 221.66,107.11 222.32,107.11 222.99,107.11 223.65,107.11 224.32,107.11 224.99,107.11 225.65,107.11 226.32,107.11 226.98,107.11 227.65,107.11 228.32,107.11 228.98,107.11 229.65,107.11 230.31,107.11 230.98,107.11 231.65,107.11 232.31,107.11 232.98,107.11 233.64,107.11 234.31,107.11 234.98,107.11 235.64,107.11 236.31,107.11 236.97,107.1 237.64,107.1 238.31,107.1 238.97,107.09 239.64,107.08 240.3,107.06 240.97,107.04 241.64,107.01 242.3,106.98 242.97,106.93 243.63,106.87 244.3,106.79 244.97,106.69 245.63,106.56 246.3,106.4 246.96,106.21 247.63,105.97 248.3,105.69 248.96,105.34 249.63,104.94 250.29,104.47 250.96,103.92 251.63,103.29 252.29,102.57 252.96,101.76 253.62,100.86 254.29,99.86 254.96,98.77 255.62,97.58 256.29,96.31 256.95,94.95 257.62,93.51 258.29,92.01 258.95,90.45 259.62,88.84 260.28,87.21 260.95,85.56 261.62,83.91 262.28,82.28 262.95,80.67 263.61,79.12 264.28,77.62 264.95,76.19 265.61,74.85 266.28,73.6 266.94,72.45 267.61,71.41 268.28,70.47 268.94,69.65 269.61,68.94 270.27,68.34 270.94,67.85 271.61,67.45 272.27,67.15 272.94,66.93 273.6,66.78 274.27,66.7 274.94,66.66 275.6,66.65 276.27,66.68 276.93,66.8 277.6,67.01 278.27,67.32 278.93,67.71 279.6,68.19 280.26,68.75 280.93,69.39 281.6,70.1 282.26,70.88 282.93,71.72 283.59,72.61 284.26,73.56 284.93,74.55 285.59,75.58 286.26,76.64 286.92,77.72 287.59,78.83 288.26,79.95 288.92,81.08 289.59,82.22 290.25,83.35 290.92,84.48 291.59,85.6 292.25,86.7 292.92,87.79 293.58,88.85 294.25,89.89 294.92,90.9 295.58,91.88 296.25,92.83 296.91,93.75 297.58,94.63 298.25,95.47 298.91,96.27 299.58,97.04 300.24,97.77 300.91,98.46 301.58,99.11 302.24,99.72 302.91,100.3 303.57,100.84 304.24,101.34 304.91,101.81 305.57,102.25 306.24,102.66 306.9,103.03 307.57,103.38 308.24,103.7 308.9,103.99 309.57,104.26 310.23,104.51 310.9,104.74 311.57,104.94 312.23,105.13 312.9,105.3 313.56,105.45 314.23,105.59 314.9,105.72 315.56,105.83 316.23,105.93 316.89,106.03 317.56,106.11 318.23,106.18 318.89,106.25 319.56,106.31 320.22,106.36 320.89,106.41 321.56,106.45 322.22,106.49 322.89,106.53 323.55,106.56 324.22,106.59 324.89,106.61 325.55,106.64 326.22,106.66 326.88,106.67 327.55,106.69 328.22,106.71 328.88,106.72 329.55,106.73 330.21,106.75 330.88,106.76 331.55,106.77 332.21,106.78 332.88,106.79 333.54,106.8 334.21,106.8 334.88,106.81 335.54,106.82 336.21,106.82 336.87,106.83 337.54,106.84 338.21,106.84 338.87,106.85 339.54,106.85 340.2,106.86 340.87,106.86 341.54,106.87 342.2,106.87 342.87,106.88 343.53,106.88 344.2,106.89" fill="none" stroke="#84a48a" stroke-width="1" stroke-linejoin="round" stroke-dasharray="2.0 1.7"/>
<polyline points="211,107.11 211.67,107.11 212.33,107.11 213,107.11 213.66,107.11 214.33,107.11 215,107.11 215.66,107.11 216.33,107.11 216.99,107.11 217.66,107.11 218.33,107.11 218.99,107.11 219.66,107.11 220.32,107.11 220.99,107.11 221.66,107.11 222.32,107.11 222.99,107.11 223.65,107.11 224.32,107.11 224.99,107.11 225.65,107.11 226.32,107.11 226.98,107.11 227.65,107.11 228.32,107.11 228.98,107.11 229.65,107.11 230.31,107.11 230.98,107.11 231.65,107.11 232.31,107.11 232.98,107.11 233.64,107.11 234.31,107.11 234.98,107.11 235.64,107.11 236.31,107.11 236.97,107.1 237.64,107.1 238.31,107.09 238.97,107.08 239.64,107.07 240.3,107.06 240.97,107.03 241.64,107 242.3,106.96 242.97,106.91 243.63,106.84 244.3,106.75 244.97,106.64 245.63,106.5 246.3,106.32 246.96,106.11 247.63,105.84 248.3,105.52 248.96,105.14 249.63,104.69 250.29,104.16 250.96,103.55 251.63,102.85 252.29,102.05 252.96,101.15 253.62,100.14 254.29,99.03 254.96,97.81 255.62,96.49 256.29,95.06 256.95,93.55 257.62,91.95 258.29,90.27 258.95,88.53 259.62,86.74 260.28,84.92 260.95,83.08 261.62,81.24 262.28,79.42 262.95,77.63 263.61,75.9 264.28,74.23 264.95,72.64 265.61,71.14 266.28,69.75 266.94,68.46 267.61,67.3 268.28,66.26 268.94,65.34 269.61,64.55 270.27,63.88 270.94,63.33 271.61,62.89 272.27,62.55 272.94,62.31 273.6,62.14 274.27,62.05 274.94,62 275.6,61.99 276.27,62.03 276.93,62.16 277.6,62.4 278.27,62.74 278.93,63.18 279.6,63.72 280.26,64.34 280.93,65.05 281.6,65.84 282.26,66.71 282.93,67.65 283.59,68.65 284.26,69.7 284.93,70.8 285.59,71.95 286.26,73.13 286.92,74.34 287.59,75.58 288.26,76.83 288.92,78.09 289.59,79.36 290.25,80.62 290.92,81.88 291.59,83.13 292.25,84.36 292.92,85.57 293.58,86.75 294.25,87.91 294.92,89.04 295.58,90.13 296.25,91.19 296.91,92.21 297.58,93.19 298.25,94.13 298.91,95.03 299.58,95.88 300.24,96.69 300.91,97.46 301.58,98.19 302.24,98.87 302.91,99.51 303.57,100.11 304.24,100.68 304.91,101.2 305.57,101.69 306.24,102.14 306.9,102.56 307.57,102.95 308.24,103.31 308.9,103.64 309.57,103.94 310.23,104.21 310.9,104.46 311.57,104.69 312.23,104.9 312.9,105.09 313.56,105.26 314.23,105.42 314.9,105.56 315.56,105.68 316.23,105.8 316.89,105.9 317.56,105.99 318.23,106.08 318.89,106.15 319.56,106.22 320.22,106.28 320.89,106.33 321.56,106.38 322.22,106.42 322.89,106.46 323.55,106.5 324.22,106.53 324.89,106.56 325.55,106.58 326.22,106.6 326.88,106.62 327.55,106.64 328.22,106.66 328.88,106.68 329.55,106.69 330.21,106.7 330.88,106.72 331.55,106.73 332.21,106.74 332.88,106.75 333.54,106.76 334.21,106.77 334.88,106.78 335.54,106.78 336.21,106.79 336.87,106.8 337.54,106.81 338.21,106.81 338.87,106.82 339.54,106.82 340.2,106.83 340.87,106.84 341.54,106.84 342.2,106.85 342.87,106.85 343.53,106.86 344.2,106.86" fill="none" stroke="#d6dbf6" stroke-width="1.2" stroke-linejoin="round"/>
<polyline points="211,107.11 211.67,107.11 212.33,107.11 213,107.11 213.66,107.11 214.33,107.11 215,107.11 215.66,107.11 216.33,107.11 216.99,107.11 217.66,107.11 218.33,107.11 218.99,107.11 219.66,107.11 220.32,107.11 220.99,107.11 221.66,107.11 222.32,107.11 222.99,107.11 223.65,107.11 224.32,107.11 224.99,107.11 225.65,107.11 226.32,107.11 226.98,107.11 227.65,107.11 228.32,107.11 228.98,107.11 229.65,107.11 230.31,107.11 230.98,107.11 231.65,107.11 232.31,107.11 232.98,107.11 233.64,107.11 234.31,107.11 234.98,107.11 235.64,107.11 236.31,107.11 236.97,107.1 237.64,107.1 238.31,107.09 238.97,107.08 239.64,107.07 240.3,107.06 240.97,107.03 241.64,107 242.3,106.96 242.97,106.91 243.63,106.84 244.3,106.75 244.97,106.64 245.63,106.5 246.3,106.32 246.96,106.11 247.63,105.84 248.3,105.52 248.96,105.14 249.63,104.69 250.29,104.16 250.96,103.55 251.63,102.85 252.29,102.05 252.96,101.15 253.62,100.14 254.29,99.03 254.96,97.81 255.62,96.49 256.29,95.06 256.95,93.55 257.62,91.95 258.29,90.27 258.95,88.53 259.62,86.74 260.28,84.92 260.95,83.08 261.62,81.24 262.28,79.42 262.95,77.63 263.61,75.9 264.28,74.23 264.95,72.64 265.61,71.14 266.28,69.75 266.94,68.46 267.61,67.3 268.28,66.26 268.94,65.34 269.61,64.55 270.27,63.88 270.94,63.33 271.61,62.89 272.27,62.55 272.94,62.31 273.6,62.14 274.27,62.05 274.94,62 275.6,61.99 276.27,62.03 276.93,62.16 277.6,62.4 278.27,62.74 278.93,63.18 279.6,63.72 280.26,64.34 280.93,65.05 281.6,65.84 282.26,66.71 282.93,67.65 283.59,68.65 284.26,69.7 284.93,70.8 285.59,71.95 286.26,73.13 286.92,74.34 287.59,75.58 288.26,76.83 288.92,78.09 289.59,79.36 290.25,80.62 290.92,81.88 291.59,83.13 292.25,84.36 292.92,85.57 293.58,86.75 294.25,87.91 294.92,89.04 295.58,90.13 296.25,91.19 296.91,92.21 297.58,93.19 298.25,94.13 298.91,95.03 299.58,95.88 300.24,96.69 300.91,97.46 301.58,98.19 302.24,98.87 302.91,99.51 303.57,100.11 304.24,100.68 304.91,101.2 305.57,101.69 306.24,102.14 306.9,102.56 307.57,102.95 308.24,103.31 308.9,103.64 309.57,103.94 310.23,104.21 310.9,104.46 311.57,104.69 312.23,104.9 312.9,105.09 313.56,105.26 314.23,105.42 314.9,105.56 315.56,105.68 316.23,105.8 316.89,105.9 317.56,105.99 318.23,106.08 318.89,106.15 319.56,106.22 320.22,106.28 320.89,106.33 321.56,106.38 322.22,106.42 322.89,106.46 323.55,106.5 324.22,106.53 324.89,106.56 325.55,106.58 326.22,106.6 326.88,106.62 327.55,106.64 328.22,106.66 328.88,106.68 329.55,106.69 330.21,106.7 330.88,106.72 331.55,106.73 332.21,106.74 332.88,106.75 333.54,106.76 334.21,106.77 334.88,106.78 335.54,106.78 336.21,106.79 336.87,106.8 337.54,106.81 338.21,106.81 338.87,106.82 339.54,106.82 340.2,106.83 340.87,106.84 341.54,106.84 342.2,106.85 342.87,106.85 343.53,106.86 344.2,106.86" fill="none" stroke="#8088ac" stroke-width="1" stroke-linejoin="round" stroke-dasharray="2.0 1.7"/>
<rect x="211" y="8.6" width="133.2" height="106.7" fill="none" stroke="#2b2b2b" stroke-width="1.3"/>
<line x1="211" y1="115.3" x2="211" y2="113.3" stroke="#2b2b2b" stroke-width="0.9"/>
<line x1="237.64" y1="115.3" x2="237.64" y2="113.3" stroke="#2b2b2b" stroke-width="0.9"/>
<line x1="264.28" y1="115.3" x2="264.28" y2="113.3" stroke="#2b2b2b" stroke-width="0.9"/>
<line x1="290.92" y1="115.3" x2="290.92" y2="113.3" stroke="#2b2b2b" stroke-width="0.9"/>
<line x1="317.56" y1="115.3" x2="317.56" y2="113.3" stroke="#2b2b2b" stroke-width="0.9"/>
<line x1="344.2" y1="115.3" x2="344.2" y2="113.3" stroke="#2b2b2b" stroke-width="0.9"/>
<line x1="224.32" y1="115.3" x2="224.32" y2="114.1" stroke="#2b2b2b" stroke-width="0.9"/>
<line x1="250.96" y1="115.3" x2="250.96" y2="114.1" stroke="#2b2b2b" stroke-width="0.9"/>
<line x1="277.6" y1="115.3" x2="277.6" y2="114.1" stroke="#2b2b2b" stroke-width="0.9"/>
<line x1="304.24" y1="115.3" x2="304.24" y2="114.1" stroke="#2b2b2b" stroke-width="0.9"/>
<line x1="330.88" y1="115.3" x2="330.88" y2="114.1" stroke="#2b2b2b" stroke-width="0.9"/>
<line x1="211" y1="108.1" x2="213" y2="108.1" stroke="#2b2b2b" stroke-width="0.9"/>
<line x1="211" y1="94" x2="213" y2="94" stroke="#2b2b2b" stroke-width="0.9"/>
<line x1="211" y1="79.9" x2="213" y2="79.9" stroke="#2b2b2b" stroke-width="0.9"/>
<line x1="211" y1="65.8" x2="213" y2="65.8" stroke="#2b2b2b" stroke-width="0.9"/>
<line x1="211" y1="51.7" x2="213" y2="51.7" stroke="#2b2b2b" stroke-width="0.9"/>
<line x1="211" y1="37.6" x2="213" y2="37.6" stroke="#2b2b2b" stroke-width="0.9"/>
<line x1="211" y1="23.5" x2="213" y2="23.5" stroke="#2b2b2b" stroke-width="0.9"/>
<line x1="211" y1="9.4" x2="213" y2="9.4" stroke="#2b2b2b" stroke-width="0.9"/>
<line x1="211" y1="101.05" x2="212.2" y2="101.05" stroke="#2b2b2b" stroke-width="0.9"/>
<line x1="211" y1="86.95" x2="212.2" y2="86.95" stroke="#2b2b2b" stroke-width="0.9"/>
<line x1="211" y1="72.85" x2="212.2" y2="72.85" stroke="#2b2b2b" stroke-width="0.9"/>
<line x1="211" y1="58.75" x2="212.2" y2="58.75" stroke="#2b2b2b" stroke-width="0.9"/>
<line x1="211" y1="44.65" x2="212.2" y2="44.65" stroke="#2b2b2b" stroke-width="0.9"/>
<line x1="211" y1="30.55" x2="212.2" y2="30.55" stroke="#2b2b2b" stroke-width="0.9"/>
<line x1="211" y1="16.45" x2="212.2" y2="16.45" stroke="#2b2b2b" stroke-width="0.9"/>
<text x="211" y="123.3" font-size="6.9" text-anchor="middle" fill="#1a1a1a" stroke="#1a1a1a" stroke-width="0.3" font-weight="bold">250</text>
<text x="237.64" y="123.3" font-size="6.9" text-anchor="middle" fill="#1a1a1a" stroke="#1a1a1a" stroke-width="0.3" font-weight="bold">260</text>
<text x="264.28" y="123.3" font-size="6.9" text-anchor="middle" fill="#1a1a1a" stroke="#1a1a1a" stroke-width="0.3" font-weight="bold">270</text>
<text x="290.92" y="123.3" font-size="6.9" text-anchor="middle" fill="#1a1a1a" stroke="#1a1a1a" stroke-width="0.3" font-weight="bold">280</text>
<text x="317.56" y="123.3" font-size="6.9" text-anchor="middle" fill="#1a1a1a" stroke="#1a1a1a" stroke-width="0.3" font-weight="bold">290</text>
<text x="344.2" y="123.3" font-size="6.9" text-anchor="middle" fill="#1a1a1a" stroke="#1a1a1a" stroke-width="0.3" font-weight="bold">300</text>
<text x="208" y="110.1" font-size="6.9" text-anchor="end" fill="#1a1a1a" stroke="#1a1a1a" stroke-width="0.3" font-weight="bold">0</text>
<text x="208.7" y="96" font-size="6.5" text-anchor="end" fill="#1a1a1a" stroke="#1a1a1a" stroke-width="0.3" font-weight="bold" letter-spacing="0.25">1x10<tspan dy="-2.6" font-size="3.8">4</tspan></text>
<text x="208.7" y="81.9" font-size="6.5" text-anchor="end" fill="#1a1a1a" stroke="#1a1a1a" stroke-width="0.3" font-weight="bold" letter-spacing="0.25">2x10<tspan dy="-2.6" font-size="3.8">4</tspan></text>
<text x="208.7" y="67.8" font-size="6.5" text-anchor="end" fill="#1a1a1a" stroke="#1a1a1a" stroke-width="0.3" font-weight="bold" letter-spacing="0.25">3x10<tspan dy="-2.6" font-size="3.8">4</tspan></text>
<text x="208.7" y="53.7" font-size="6.5" text-anchor="end" fill="#1a1a1a" stroke="#1a1a1a" stroke-width="0.3" font-weight="bold" letter-spacing="0.25">4x10<tspan dy="-2.6" font-size="3.8">4</tspan></text>
<text x="208.7" y="39.6" font-size="6.5" text-anchor="end" fill="#1a1a1a" stroke="#1a1a1a" stroke-width="0.3" font-weight="bold" letter-spacing="0.25">5x10<tspan dy="-2.6" font-size="3.8">4</tspan></text>
<text x="208.7" y="25.5" font-size="6.5" text-anchor="end" fill="#1a1a1a" stroke="#1a1a1a" stroke-width="0.3" font-weight="bold" letter-spacing="0.25">6x10<tspan dy="-2.6" font-size="3.8">4</tspan></text>
<text x="208.7" y="11.4" font-size="6.5" text-anchor="end" fill="#1a1a1a" stroke="#1a1a1a" stroke-width="0.3" font-weight="bold" letter-spacing="0.25">7x10<tspan dy="-2.6" font-size="3.8">4</tspan></text>
<text x="277.7" y="129.9" font-size="6.75" text-anchor="middle" fill="#1a1a1a" stroke="#1a1a1a" stroke-width="0.3" font-weight="bold" textLength="51.4" lengthAdjust="spacingAndGlyphs">Wavelength (nm)</text>
<text x="190" y="59.2" font-size="7.05" text-anchor="middle" fill="#1a1a1a" stroke="#1a1a1a" stroke-width="0.3" font-weight="bold" transform="rotate(-90 190 59.2)">EL Intensity (a.u.)</text>
<text x="216.4" y="17.9" font-size="9" text-anchor="start" fill="#1a1a1a" stroke="#1a1a1a" stroke-width="0.4" font-weight="bold">S2</text>
<line x1="303.8" y1="14.6" x2="318.8" y2="14.6" stroke="#f7d4dc" stroke-width="1.1"/>
<line x1="303.8" y1="14.6" x2="318.8" y2="14.6" stroke="#a47c88" stroke-width="0.9" stroke-dasharray="3 2.2" opacity="0.6"/>
<text x="321.4" y="17" font-size="6.8" text-anchor="start" fill="#1a1a1a" stroke="#1a1a1a" stroke-width="0.3" font-weight="bold">5mA</text>
<line x1="303.8" y1="23.5" x2="318.8" y2="23.5" stroke="#fae0cc" stroke-width="1.1"/>
<line x1="303.8" y1="23.5" x2="318.8" y2="23.5" stroke="#b09888" stroke-width="0.9" stroke-dasharray="3 2.2" opacity="0.6"/>
<text x="321.4" y="25.9" font-size="6.8" text-anchor="start" fill="#1a1a1a" stroke="#1a1a1a" stroke-width="0.3" font-weight="bold">10mA</text>
<line x1="303.8" y1="32.4" x2="318.8" y2="32.4" stroke="#d4f3d8" stroke-width="1.1"/>
<line x1="303.8" y1="32.4" x2="318.8" y2="32.4" stroke="#84a48a" stroke-width="0.9" stroke-dasharray="3 2.2" opacity="0.6"/>
<text x="321.4" y="34.8" font-size="6.8" text-anchor="start" fill="#1a1a1a" stroke="#1a1a1a" stroke-width="0.3" font-weight="bold">15mA</text>
<line x1="303.8" y1="41.3" x2="318.8" y2="41.3" stroke="#d6dbf6" stroke-width="1.1"/>
<line x1="303.8" y1="41.3" x2="318.8" y2="41.3" stroke="#8088ac" stroke-width="0.9" stroke-dasharray="3 2.2" opacity="0.6"/>
<text x="321.4" y="43.7" font-size="6.8" text-anchor="start" fill="#1a1a1a" stroke="#1a1a1a" stroke-width="0.3" font-weight="bold">20mA</text>
<text x="1.2" y="10" font-size="10.6" font-weight="bold" fill="#111" stroke="#111" stroke-width="0.5" letter-spacing="0.5">(a<tspan dy="2.3" font-size="7.4">1</tspan><tspan dy="-2.3">)</tspan></text>
<text x="173.6" y="10" font-size="10.6" font-weight="bold" fill="#111" stroke="#111" stroke-width="0.5" letter-spacing="0.5">(a<tspan dy="2.3" font-size="7.4">2</tspan><tspan dy="-2.3">)</tspan></text>
<polyline points="380.6,106.07 381.11,106.07 381.63,106.07 382.14,106.07 382.66,106.07 383.17,106.07 383.68,106.07 384.2,106.07 384.71,106.07 385.23,106.07 385.74,106.07 386.25,106.07 386.77,106.07 387.28,106.07 387.8,106.07 388.31,106.07 388.82,106.07 389.34,106.07 389.85,106.07 390.37,106.07 390.88,106.07 391.39,106.07 391.91,106.07 392.42,106.07 392.94,106.07 393.45,106.07 393.96,106.07 394.48,106.07 394.99,106.07 395.51,106.07 396.02,106.07 396.53,106.07 397.05,106.07 397.56,106.07 398.08,106.07 398.59,106.07 399.1,106.07 399.62,106.07 400.13,106.07 400.65,106.07 401.16,106.07 401.67,106.07 402.19,106.06 402.7,106.06 403.22,106.06 403.73,106.06 404.24,106.06 404.76,106.06 405.27,106.06 405.79,106.05 406.3,106.05 406.81,106.04 407.33,106.03 407.84,106.02 408.36,106.01 408.87,105.99 409.38,105.97 409.9,105.94 410.41,105.91 410.93,105.87 411.44,105.82 411.95,105.76 412.47,105.68 412.98,105.59 413.5,105.48 414.01,105.34 414.52,105.18 415.04,104.99 415.55,104.77 416.07,104.5 416.58,104.19 417.09,103.83 417.61,103.4 418.12,102.92 418.64,102.36 419.15,101.72 419.66,101 420.18,100.17 420.69,99.25 421.21,98.22 421.72,97.06 422.23,95.79 422.75,94.38 423.26,92.83 423.78,91.15 424.29,89.32 424.8,87.35 425.32,85.23 425.83,82.96 426.35,80.56 426.86,78.02 427.37,75.35 427.89,72.56 428.4,69.67 428.92,66.68 429.43,63.61 429.94,60.49 430.46,57.32 430.97,54.56 431.49,51.93 432,46.82 432.51,45.9 433.03,41.75 433.54,38.93 434.06,34.82 434.57,34.29 435.08,29.85 435.6,28.63 436.11,26.08 436.63,24.47 437.14,21.79 437.65,21.58 438.17,19.51 438.68,18.12 439.2,16.1 439.71,19.01 440.22,15.35 440.74,15.66 441.25,16.95 441.77,16.61 442.28,17.91 442.79,17.12 443.31,19.47 443.82,21.19 444.34,22.78 444.85,24.5 445.36,26.36 445.88,28.82 446.39,28.96 446.91,33.68 447.42,36.88 447.93,37 448.45,39.29 448.96,41.29 449.48,43.88 449.99,46.12 450.5,48.15 451.02,50.09 451.53,52.92 452.05,55.04 452.56,56.25 453.07,58.87 453.59,61.41 454.1,62.29 454.62,64.7 455.13,66.94 455.64,68.87 456.16,70.22 456.67,71.96 457.19,73.57 457.7,75.12 458.21,76.6 458.73,78.03 459.24,79.41 459.76,80.73 460.27,81.99 460.78,83.2 461.3,84.35 461.81,85.46 462.33,86.51 462.84,87.52 463.35,88.49 463.87,89.4 464.38,90.28 464.9,91.11 465.41,91.9 465.92,92.66 466.44,93.38 466.95,94.06 467.47,94.71 467.98,95.32 468.49,95.91 469.01,96.46 469.52,96.99 470.04,97.49 470.55,97.96 471.06,98.41 471.58,98.83 472.09,99.24 472.61,99.62 473.12,99.98 473.63,100.32 474.15,100.65 474.66,100.95 475.18,101.24 475.69,101.52 476.2,101.77 476.72,102.02 477.23,102.25 477.75,102.47 478.26,102.68 478.77,102.87 479.29,103.05 479.8,103.23 480.32,103.39 480.83,103.55 481.34,103.69 481.86,103.83 482.37,103.96 482.89,104.08 483.4,104.2 483.91,104.31 484.43,104.41 484.94,104.51 485.46,104.6 485.97,104.69 486.48,104.77 487,104.84 487.51,104.92 488.03,104.98 488.54,105.05 489.05,105.11 489.57,105.17 490.08,105.22 490.6,105.27 491.11,105.32 491.62,105.36 492.14,105.4 492.65,105.44 493.17,105.48 493.68,105.52 494.19,105.55 494.71,105.58 495.22,105.61 495.74,105.64 496.25,105.66 496.76,105.69 497.28,105.71 497.79,105.73 498.31,105.75 498.82,105.77 499.33,105.79 499.85,105.8 500.36,105.82 500.88,105.84 501.39,105.85 501.9,105.86 502.42,105.87 502.93,105.89 503.45,105.9 503.96,105.91 504.47,105.92 504.99,105.93 505.5,105.93 506.02,105.94 506.53,105.95 507.04,105.96 507.56,105.96 508.07,105.97 508.59,105.98 509.1,105.98" fill="none" stroke="#7a82e2" stroke-width="1.05" stroke-linejoin="round"/>
<polyline points="380.6,106.07 381.11,106.07 381.63,106.07 382.14,106.07 382.66,106.07 383.17,106.07 383.68,106.07 384.2,106.07 384.71,106.07 385.23,106.07 385.74,106.07 386.25,106.07 386.77,106.07 387.28,106.07 387.8,106.07 388.31,106.07 388.82,106.07 389.34,106.07 389.85,106.07 390.37,106.07 390.88,106.07 391.39,106.07 391.91,106.07 392.42,106.07 392.94,106.07 393.45,106.07 393.96,106.07 394.48,106.07 394.99,106.06 395.51,106.06 396.02,106.06 396.53,106.06 397.05,106.06 397.56,106.06 398.08,106.06 398.59,106.06 399.1,106.05 399.62,106.05 400.13,106.05 400.65,106.04 401.16,106.04 401.67,106.03 402.19,106.02 402.7,106.01 403.22,106 403.73,105.98 404.24,105.96 404.76,105.94 405.27,105.92 405.79,105.89 406.3,105.85 406.81,105.81 407.33,105.76 407.84,105.7 408.36,105.64 408.87,105.56 409.38,105.47 409.9,105.37 410.41,105.25 410.93,105.11 411.44,104.96 411.95,104.78 412.47,104.58 412.98,104.36 413.5,104.1 414.01,103.82 414.52,103.5 415.04,103.14 415.55,102.74 416.07,102.3 416.58,101.81 417.09,101.27 417.61,100.69 418.12,100.04 418.64,99.34 419.15,98.57 419.66,97.75 420.18,96.86 420.69,95.9 421.21,94.88 421.72,93.79 422.23,92.63 422.75,91.4 423.26,90.11 423.78,88.75 424.29,87.33 424.8,85.85 425.32,84.32 425.83,82.74 426.35,81.12 426.86,79.46 427.37,77.77 427.89,76.06 428.4,74.3 428.92,72.18 429.43,71.22 429.94,68.81 430.46,67.61 430.97,65.98 431.49,63.49 432,62.7 432.51,61.33 433.03,59.61 433.54,58.13 434.06,57.52 434.57,56.15 435.08,56.04 435.6,54.92 436.11,54.3 436.63,54.29 437.14,54.04 437.65,53.91 438.17,53 438.68,53.14 439.2,53.73 439.71,54.27 440.22,56.03 440.74,56.46 441.25,57.55 441.77,58.64 442.28,60.86 442.79,62.1 443.31,64.33 443.82,65.12 444.34,67.35 444.85,68.49 445.36,68.92 445.88,71.68 446.39,71.95 446.91,73.53 447.42,75.11 447.93,76.18 448.45,77.45 448.96,78.54 449.48,80.12 449.99,81.37 450.5,82.48 451.02,83.64 451.53,84.45 452.05,85.6 452.56,86.19 453.07,87.63 453.59,88.36 454.1,89.03 454.62,89.84 455.13,90.61 455.64,91.35 456.16,92.05 456.67,92.72 457.19,93.37 457.7,93.98 458.21,94.57 458.73,95.13 459.24,95.66 459.76,96.17 460.27,96.66 460.78,97.12 461.3,97.56 461.81,97.98 462.33,98.38 462.84,98.76 463.35,99.13 463.87,99.47 464.38,99.8 464.9,100.11 465.41,100.41 465.92,100.69 466.44,100.96 466.95,101.22 467.47,101.46 467.98,101.69 468.49,101.91 469.01,102.12 469.52,102.32 470.04,102.51 470.55,102.69 471.06,102.86 471.58,103.02 472.09,103.18 472.61,103.32 473.12,103.46 473.63,103.6 474.15,103.72 474.66,103.84 475.18,103.95 475.69,104.06 476.2,104.16 476.72,104.26 477.23,104.35 477.75,104.44 478.26,104.52 478.77,104.6 479.29,104.68 479.8,104.75 480.32,104.82 480.83,104.88 481.34,104.94 481.86,105 482.37,105.05 482.89,105.11 483.4,105.15 483.91,105.2 484.43,105.25 484.94,105.29 485.46,105.33 485.97,105.37 486.48,105.4 487,105.44 487.51,105.47 488.03,105.5 488.54,105.53 489.05,105.56 489.57,105.58 490.08,105.61 490.6,105.63 491.11,105.65 491.62,105.68 492.14,105.7 492.65,105.71 493.17,105.73 493.68,105.75 494.19,105.77 494.71,105.78 495.22,105.8 495.74,105.81 496.25,105.82 496.76,105.84 497.28,105.85 497.79,105.86 498.31,105.87 498.82,105.88 499.33,105.89 499.85,105.9 500.36,105.91 500.88,105.92 501.39,105.92 501.9,105.93 502.42,105.94 502.93,105.95 503.45,105.95 503.96,105.96 504.47,105.96 504.99,105.97 505.5,105.97 506.02,105.98 506.53,105.98 507.04,105.99 507.56,105.99 508.07,106 508.59,106 509.1,106" fill="none" stroke="#e58282" stroke-width="1.05" stroke-linejoin="round"/>
<rect x="380.6" y="8.4" width="128.5" height="107.2" fill="none" stroke="#2b2b2b" stroke-width="1.3"/>
<line x1="380.6" y1="115.6" x2="380.6" y2="113.6" stroke="#2b2b2b" stroke-width="0.9"/>
<line x1="406.3" y1="115.6" x2="406.3" y2="113.6" stroke="#2b2b2b" stroke-width="0.9"/>
<line x1="432" y1="115.6" x2="432" y2="113.6" stroke="#2b2b2b" stroke-width="0.9"/>
<line x1="457.7" y1="115.6" x2="457.7" y2="113.6" stroke="#2b2b2b" stroke-width="0.9"/>
<line x1="483.4" y1="115.6" x2="483.4" y2="113.6" stroke="#2b2b2b" stroke-width="0.9"/>
<line x1="509.1" y1="115.6" x2="509.1" y2="113.6" stroke="#2b2b2b" stroke-width="0.9"/>
<line x1="393.45" y1="115.6" x2="393.45" y2="114.4" stroke="#2b2b2b" stroke-width="0.9"/>
<line x1="419.15" y1="115.6" x2="419.15" y2="114.4" stroke="#2b2b2b" stroke-width="0.9"/>
<line x1="444.85" y1="115.6" x2="444.85" y2="114.4" stroke="#2b2b2b" stroke-width="0.9"/>
<line x1="470.55" y1="115.6" x2="470.55" y2="114.4" stroke="#2b2b2b" stroke-width="0.9"/>
<line x1="496.25" y1="115.6" x2="496.25" y2="114.4" stroke="#2b2b2b" stroke-width="0.9"/>
<line x1="380.6" y1="106.2" x2="382.6" y2="106.2" stroke="#2b2b2b" stroke-width="0.9"/>
<line x1="380.6" y1="88.46" x2="382.6" y2="88.46" stroke="#2b2b2b" stroke-width="0.9"/>
<line x1="380.6" y1="70.72" x2="382.6" y2="70.72" stroke="#2b2b2b" stroke-width="0.9"/>
<line x1="380.6" y1="52.98" x2="382.6" y2="52.98" stroke="#2b2b2b" stroke-width="0.9"/>
<line x1="380.6" y1="35.24" x2="382.6" y2="35.24" stroke="#2b2b2b" stroke-width="0.9"/>
<line x1="380.6" y1="17.5" x2="382.6" y2="17.5" stroke="#2b2b2b" stroke-width="0.9"/>
<line x1="380.6" y1="97.33" x2="381.8" y2="97.33" stroke="#2b2b2b" stroke-width="0.9"/>
<line x1="380.6" y1="79.59" x2="381.8" y2="79.59" stroke="#2b2b2b" stroke-width="0.9"/>
<line x1="380.6" y1="61.85" x2="381.8" y2="61.85" stroke="#2b2b2b" stroke-width="0.9"/>
<line x1="380.6" y1="44.11" x2="381.8" y2="44.11" stroke="#2b2b2b" stroke-width="0.9"/>
<line x1="380.6" y1="26.37" x2="381.8" y2="26.37" stroke="#2b2b2b" stroke-width="0.9"/>
<text x="380.6" y="123.6" font-size="6.9" text-anchor="middle" fill="#1a1a1a" stroke="#1a1a1a" stroke-width="0.3" font-weight="bold">250</text>
<text x="406.3" y="123.6" font-size="6.9" text-anchor="middle" fill="#1a1a1a" stroke="#1a1a1a" stroke-width="0.3" font-weight="bold">260</text>
<text x="432" y="123.6" font-size="6.9" text-anchor="middle" fill="#1a1a1a" stroke="#1a1a1a" stroke-width="0.3" font-weight="bold">270</text>
<text x="457.7" y="123.6" font-size="6.9" text-anchor="middle" fill="#1a1a1a" stroke="#1a1a1a" stroke-width="0.3" font-weight="bold">280</text>
<text x="483.4" y="123.6" font-size="6.9" text-anchor="middle" fill="#1a1a1a" stroke="#1a1a1a" stroke-width="0.3" font-weight="bold">290</text>
<text x="509.1" y="123.6" font-size="6.9" text-anchor="middle" fill="#1a1a1a" stroke="#1a1a1a" stroke-width="0.3" font-weight="bold">300</text>
<text x="377.6" y="108.2" font-size="6.9" text-anchor="end" fill="#1a1a1a" stroke="#1a1a1a" stroke-width="0.3" font-weight="bold">0</text>
<text x="378.3" y="90.46" font-size="6.5" text-anchor="end" fill="#1a1a1a" stroke="#1a1a1a" stroke-width="0.3" font-weight="bold" letter-spacing="0.25">2x10<tspan dy="-2.6" font-size="3.8">5</tspan></text>
<text x="378.3" y="72.72" font-size="6.5" text-anchor="end" fill="#1a1a1a" stroke="#1a1a1a" stroke-width="0.3" font-weight="bold" letter-spacing="0.25">4x10<tspan dy="-2.6" font-size="3.8">5</tspan></text>
<text x="378.3" y="54.98" font-size="6.5" text-anchor="end" fill="#1a1a1a" stroke="#1a1a1a" stroke-width="0.3" font-weight="bold" letter-spacing="0.25">6x10<tspan dy="-2.6" font-size="3.8">5</tspan></text>
<text x="378.3" y="37.24" font-size="6.5" text-anchor="end" fill="#1a1a1a" stroke="#1a1a1a" stroke-width="0.3" font-weight="bold" letter-spacing="0.25">8x10<tspan dy="-2.6" font-size="3.8">5</tspan></text>
<text x="378.3" y="19.5" font-size="6.5" text-anchor="end" fill="#1a1a1a" stroke="#1a1a1a" stroke-width="0.3" font-weight="bold" letter-spacing="0.25">1x10<tspan dy="-2.6" font-size="3.8">6</tspan></text>
<text x="445" y="129.7" font-size="6.6" text-anchor="middle" fill="#1a1a1a" stroke="#1a1a1a" stroke-width="0.3" font-weight="bold" textLength="49.2" lengthAdjust="spacingAndGlyphs">Wavelength (nm)</text>
<text x="360.3" y="57.4" font-size="6.75" text-anchor="middle" fill="#1a1a1a" stroke="#1a1a1a" stroke-width="0.3" font-weight="bold" transform="rotate(-90 360.3 57.4)">Intensity (a.u.)</text>
<line x1="462.9" y1="16.2" x2="478.5" y2="16.2" stroke="#8088d8" stroke-width="1.1"/>
<line x1="462.9" y1="24.8" x2="478.5" y2="24.8" stroke="#e09090" stroke-width="1.1"/>
<text x="481.9" y="19.2" font-size="9" text-anchor="start" fill="#1a1a1a" stroke="#1a1a1a" stroke-width="0.3" font-weight="bold">S1</text>
<text x="481.9" y="28.3" font-size="9" text-anchor="start" fill="#1a1a1a" stroke="#1a1a1a" stroke-width="0.3" font-weight="bold">S2</text>
<text x="347.6" y="12.7" font-size="11" font-weight="bold" fill="#111" stroke="#111" stroke-width="0.5" letter-spacing="0.3">(b)</text>
<polygon points="40,170.5 79.87,172.64 118.01,175.14 146.32,177.54 151.17,178.43 156.09,184.31 160.61,176.56 164.73,174.78 172.9,172.46 172.9,172.46 164.73,174.78 160.61,176.21 152.5,178.88 146.32,180.21 135.02,186.98 118.01,199.37 106.45,208.28 102.99,211.3 99.81,206.94 95.02,202.4 87.84,196.69 79.87,192.42 69.9,187.34 59.94,182.98 49.97,179.95 40,177.01" fill="#ffc0c0" stroke="none" stroke-width="0"/>
<polygon points="151.17,178.43 156.09,184.31 160.61,176.56 152.5,178.88" fill="#b5e6f5" stroke="none" stroke-width="0"/>
<polyline points="40,177.01 49.97,179.95 59.94,182.98 69.9,187.34 79.87,192.42 87.84,196.69 95.02,202.4 99.81,206.94 102.99,211.3 106.45,208.28 118.01,199.37 135.02,186.98 146.32,180.21 152.5,178.88 160.61,176.21 164.73,174.78 172.9,172.46" fill="none" stroke="#a6b4c2" stroke-width="1.5" stroke-linejoin="round"/>
<polyline points="40,177.01 49.97,179.95 59.94,182.98 69.9,187.34 79.87,192.42 87.84,196.69 95.02,202.4 99.81,206.94 102.99,211.3 106.45,208.28 118.01,199.37 135.02,186.98 146.32,180.21 152.5,178.88 160.61,176.21 164.73,174.78 172.9,172.46" fill="none" stroke="#bfe9f7" stroke-width="0.6" stroke-linejoin="round"/>
<polyline points="40,170.5 79.87,172.64 118.01,175.14 146.32,177.54 151.17,178.43 156.09,184.31 160.61,176.56 164.73,174.78 172.9,172.46" fill="none" stroke="#e7a0a3" stroke-width="1.1" stroke-linejoin="round"/>
<rect x="40" y="137.9" width="132.9" height="106.9" fill="none" stroke="#2b2b2b" stroke-width="1.3"/>
<line x1="172.9" y1="138.6" x2="172.9" y2="244.1" stroke="#8a8a8a" stroke-width="1.3"/>
<line x1="40" y1="244.8" x2="40" y2="242.8" stroke="#2b2b2b" stroke-width="0.9"/>
<line x1="53.29" y1="244.8" x2="53.29" y2="242.8" stroke="#2b2b2b" stroke-width="0.9"/>
<line x1="66.58" y1="244.8" x2="66.58" y2="242.8" stroke="#2b2b2b" stroke-width="0.9"/>
<line x1="79.87" y1="244.8" x2="79.87" y2="242.8" stroke="#2b2b2b" stroke-width="0.9"/>
<line x1="93.16" y1="244.8" x2="93.16" y2="242.8" stroke="#2b2b2b" stroke-width="0.9"/>
<line x1="106.45" y1="244.8" x2="106.45" y2="242.8" stroke="#2b2b2b" stroke-width="0.9"/>
<line x1="119.74" y1="244.8" x2="119.74" y2="242.8" stroke="#2b2b2b" stroke-width="0.9"/>
<line x1="133.03" y1="244.8" x2="133.03" y2="242.8" stroke="#2b2b2b" stroke-width="0.9"/>
<line x1="146.32" y1="244.8" x2="146.32" y2="242.8" stroke="#2b2b2b" stroke-width="0.9"/>
<line x1="159.61" y1="244.8" x2="159.61" y2="242.8" stroke="#2b2b2b" stroke-width="0.9"/>
<line x1="172.9" y1="244.8" x2="172.9" y2="242.8" stroke="#2b2b2b" stroke-width="0.9"/>
<line x1="46.64" y1="244.8" x2="46.64" y2="243.6" stroke="#2b2b2b" stroke-width="0.9"/>
<line x1="59.94" y1="244.8" x2="59.94" y2="243.6" stroke="#2b2b2b" stroke-width="0.9"/>
<line x1="73.22" y1="244.8" x2="73.22" y2="243.6" stroke="#2b2b2b" stroke-width="0.9"/>
<line x1="86.52" y1="244.8" x2="86.52" y2="243.6" stroke="#2b2b2b" stroke-width="0.9"/>
<line x1="99.81" y1="244.8" x2="99.81" y2="243.6" stroke="#2b2b2b" stroke-width="0.9"/>
<line x1="113.1" y1="244.8" x2="113.1" y2="243.6" stroke="#2b2b2b" stroke-width="0.9"/>
<line x1="126.39" y1="244.8" x2="126.39" y2="243.6" stroke="#2b2b2b" stroke-width="0.9"/>
<line x1="139.68" y1="244.8" x2="139.68" y2="243.6" stroke="#2b2b2b" stroke-width="0.9"/>
<line x1="152.97" y1="244.8" x2="152.97" y2="243.6" stroke="#2b2b2b" stroke-width="0.9"/>
<line x1="166.25" y1="244.8" x2="166.25" y2="243.6" stroke="#2b2b2b" stroke-width="0.9"/>
<line x1="40" y1="137.9" x2="42" y2="137.9" stroke="#2b2b2b" stroke-width="0.9"/>
<line x1="40" y1="146.81" x2="42" y2="146.81" stroke="#2b2b2b" stroke-width="0.9"/>
<line x1="40" y1="155.72" x2="42" y2="155.72" stroke="#2b2b2b" stroke-width="0.9"/>
<line x1="40" y1="164.62" x2="42" y2="164.62" stroke="#2b2b2b" stroke-width="0.9"/>
<line x1="40" y1="173.53" x2="42" y2="173.53" stroke="#2b2b2b" stroke-width="0.9"/>
<line x1="40" y1="182.44" x2="42" y2="182.44" stroke="#2b2b2b" stroke-width="0.9"/>
<line x1="40" y1="191.35" x2="42" y2="191.35" stroke="#2b2b2b" stroke-width="0.9"/>
<line x1="40" y1="200.26" x2="42" y2="200.26" stroke="#2b2b2b" stroke-width="0.9"/>
<line x1="40" y1="209.17" x2="42" y2="209.17" stroke="#2b2b2b" stroke-width="0.9"/>
<line x1="40" y1="218.07" x2="42" y2="218.07" stroke="#2b2b2b" stroke-width="0.9"/>
<line x1="40" y1="226.98" x2="42" y2="226.98" stroke="#2b2b2b" stroke-width="0.9"/>
<line x1="40" y1="235.89" x2="42" y2="235.89" stroke="#2b2b2b" stroke-width="0.9"/>
<line x1="40" y1="244.8" x2="42" y2="244.8" stroke="#2b2b2b" stroke-width="0.9"/>
<text x="39.7" y="252.7" font-size="6.8" text-anchor="middle" fill="#1a1a1a" stroke="#1a1a1a" stroke-width="0.3" font-weight="bold">-1.0</text>
<text x="52.99" y="252.7" font-size="6.8" text-anchor="middle" fill="#1a1a1a" stroke="#1a1a1a" stroke-width="0.3" font-weight="bold">-0.8</text>
<text x="66.28" y="252.7" font-size="6.8" text-anchor="middle" fill="#1a1a1a" stroke="#1a1a1a" stroke-width="0.3" font-weight="bold">-0.6</text>
<text x="79.57" y="252.7" font-size="6.8" text-anchor="middle" fill="#1a1a1a" stroke="#1a1a1a" stroke-width="0.3" font-weight="bold">-0.4</text>
<text x="92.86" y="252.7" font-size="6.8" text-anchor="middle" fill="#1a1a1a" stroke="#1a1a1a" stroke-width="0.3" font-weight="bold">-0.2</text>
<text x="106.15" y="252.7" font-size="6.8" text-anchor="middle" fill="#1a1a1a" stroke="#1a1a1a" stroke-width="0.3" font-weight="bold">0</text>
<text x="119.44" y="252.7" font-size="6.8" text-anchor="middle" fill="#1a1a1a" stroke="#1a1a1a" stroke-width="0.3" font-weight="bold">0.2</text>
<text x="132.73" y="252.7" font-size="6.8" text-anchor="middle" fill="#1a1a1a" stroke="#1a1a1a" stroke-width="0.3" font-weight="bold">0.4</text>
<text x="146.02" y="252.7" font-size="6.8" text-anchor="middle" fill="#1a1a1a" stroke="#1a1a1a" stroke-width="0.3" font-weight="bold">0.6</text>
<text x="159.31" y="252.7" font-size="6.8" text-anchor="middle" fill="#1a1a1a" stroke="#1a1a1a" stroke-width="0.3" font-weight="bold">0.8</text>
<text x="172.6" y="252.7" font-size="6.8" text-anchor="middle" fill="#1a1a1a" stroke="#1a1a1a" stroke-width="0.3" font-weight="bold">1.0</text>
<text x="37.6" y="140.5" font-size="6.6" text-anchor="end" fill="#1a1a1a" stroke="#1a1a1a" stroke-width="0.3" font-weight="bold" letter-spacing="0.15">10<tspan dy="-2.6" font-size="4.2">-4</tspan></text>
<text x="37.6" y="149.41" font-size="6.6" text-anchor="end" fill="#1a1a1a" stroke="#1a1a1a" stroke-width="0.3" font-weight="bold" letter-spacing="0.15">10<tspan dy="-2.6" font-size="4.2">-5</tspan></text>
<text x="37.6" y="158.32" font-size="6.6" text-anchor="end" fill="#1a1a1a" stroke="#1a1a1a" stroke-width="0.3" font-weight="bold" letter-spacing="0.15">10<tspan dy="-2.6" font-size="4.2">-6</tspan></text>
<text x="37.6" y="167.22" font-size="6.6" text-anchor="end" fill="#1a1a1a" stroke="#1a1a1a" stroke-width="0.3" font-weight="bold" letter-spacing="0.15">10<tspan dy="-2.6" font-size="4.2">-7</tspan></text>
<text x="37.6" y="176.13" font-size="6.6" text-anchor="end" fill="#1a1a1a" stroke="#1a1a1a" stroke-width="0.3" font-weight="bold" letter-spacing="0.15">10<tspan dy="-2.6" font-size="4.2">-8</tspan></text>
<text x="37.6" y="185.04" font-size="6.6" text-anchor="end" fill="#1a1a1a" stroke="#1a1a1a" stroke-width="0.3" font-weight="bold" letter-spacing="0.15">10<tspan dy="-2.6" font-size="4.2">-9</tspan></text>
<text x="37.6" y="193.95" font-size="6.6" text-anchor="end" fill="#1a1a1a" stroke="#1a1a1a" stroke-width="0.3" font-weight="bold" letter-spacing="0.15">10<tspan dy="-2.6" font-size="4.2">-10</tspan></text>
<text x="37.6" y="202.86" font-size="6.6" text-anchor="end" fill="#1a1a1a" stroke="#1a1a1a" stroke-width="0.3" font-weight="bold" letter-spacing="0.15">10<tspan dy="-2.6" font-size="4.2">-11</tspan></text>
<text x="37.6" y="211.77" font-size="6.6" text-anchor="end" fill="#1a1a1a" stroke="#1a1a1a" stroke-width="0.3" font-weight="bold" letter-spacing="0.15">10<tspan dy="-2.6" font-size="4.2">-12</tspan></text>
<text x="37.6" y="220.67" font-size="6.6" text-anchor="end" fill="#1a1a1a" stroke="#1a1a1a" stroke-width="0.3" font-weight="bold" letter-spacing="0.15">10<tspan dy="-2.6" font-size="4.2">-13</tspan></text>
<text x="37.6" y="229.58" font-size="6.6" text-anchor="end" fill="#1a1a1a" stroke="#1a1a1a" stroke-width="0.3" font-weight="bold" letter-spacing="0.15">10<tspan dy="-2.6" font-size="4.2">-14</tspan></text>
<text x="37.6" y="238.49" font-size="6.6" text-anchor="end" fill="#1a1a1a" stroke="#1a1a1a" stroke-width="0.3" font-weight="bold" letter-spacing="0.15">10<tspan dy="-2.6" font-size="4.2">-15</tspan></text>
<text x="37.6" y="247.4" font-size="6.6" text-anchor="end" fill="#1a1a1a" stroke="#1a1a1a" stroke-width="0.3" font-weight="bold" letter-spacing="0.15">10<tspan dy="-2.6" font-size="4.2">-16</tspan></text>
<text x="106.5" y="258.6" font-size="6.6" text-anchor="middle" fill="#1a1a1a" stroke="#1a1a1a" stroke-width="0.3" font-weight="bold" textLength="33.9" lengthAdjust="spacingAndGlyphs">Voltage (V)</text>
<text x="23.5" y="189.2" font-size="7.2" text-anchor="middle" fill="#1a1a1a" stroke="#1a1a1a" stroke-width="0.3" font-weight="bold" transform="rotate(-90 23.5 189.2)">Current (A)</text>
<text x="45.4" y="147.1" font-size="8.8" text-anchor="start" fill="#1a1a1a" stroke="#1a1a1a" stroke-width="0.4" font-weight="bold">S1</text>
<line x1="131.6" y1="226.6" x2="142.6" y2="226.6" stroke="#e8b0b8" stroke-width="1.1"/>
<line x1="131.6" y1="235" x2="142.6" y2="235" stroke="#a6dcd8" stroke-width="1.1"/>
<text x="146.7" y="229" font-size="6.9" text-anchor="start" fill="#1a1a1a" stroke="#1a1a1a" stroke-width="0.3" font-weight="bold">50 mA</text>
<text x="146.7" y="237.4" font-size="6.9" text-anchor="start" fill="#1a1a1a" stroke="#1a1a1a" stroke-width="0.3" font-weight="bold">Dark</text>
<polygon points="211.6,155.45 237.84,158.51 260.14,161.92 277.2,164.8 290.32,168.48 296.88,184.83 304.1,166.06 316.56,163.27 328.37,159.86 336.24,159.41 342.8,157.52 342.8,179.08 316.56,183.21 300.16,187.62 290.32,191.3 283.1,196.87 277.4,235.59 271.95,196.87 269.98,193.72 264.08,191.3 250.3,187.62 231.28,183.21 211.6,180.43" fill="#ffc0c0" stroke="none" stroke-width="0"/>
<polyline points="211.6,180.43 231.28,183.21 250.3,187.62 264.08,191.3 269.98,193.72 271.95,196.87 277.4,235.59 283.1,196.87 290.32,191.3 300.16,187.62 316.56,183.21 342.8,179.08" fill="none" stroke="#a6b4c2" stroke-width="1.5" stroke-linejoin="round"/>
<polyline points="211.6,180.43 231.28,183.21 250.3,187.62 264.08,191.3 269.98,193.72 271.95,196.87 277.4,235.59 283.1,196.87 290.32,191.3 300.16,187.62 316.56,183.21 342.8,179.08" fill="none" stroke="#bfe9f7" stroke-width="0.6" stroke-linejoin="round"/>
<polyline points="211.6,155.45 237.84,158.51 260.14,161.92 277.2,164.8 290.32,168.48 296.88,184.83 304.1,166.06 316.56,163.27 328.37,159.86 336.24,159.41 342.8,157.52" fill="none" stroke="#e7a0a3" stroke-width="1.1" stroke-linejoin="round"/>
<rect x="211.6" y="136.5" width="131.2" height="107.8" fill="none" stroke="#2b2b2b" stroke-width="1.3"/>
<line x1="211.6" y1="244.3" x2="211.6" y2="242.3" stroke="#2b2b2b" stroke-width="0.9"/>
<line x1="224.72" y1="244.3" x2="224.72" y2="242.3" stroke="#2b2b2b" stroke-width="0.9"/>
<line x1="237.84" y1="244.3" x2="237.84" y2="242.3" stroke="#2b2b2b" stroke-width="0.9"/>
<line x1="250.96" y1="244.3" x2="250.96" y2="242.3" stroke="#2b2b2b" stroke-width="0.9"/>
<line x1="264.08" y1="244.3" x2="264.08" y2="242.3" stroke="#2b2b2b" stroke-width="0.9"/>
<line x1="277.2" y1="244.3" x2="277.2" y2="242.3" stroke="#2b2b2b" stroke-width="0.9"/>
<line x1="290.32" y1="244.3" x2="290.32" y2="242.3" stroke="#2b2b2b" stroke-width="0.9"/>
<line x1="303.44" y1="244.3" x2="303.44" y2="242.3" stroke="#2b2b2b" stroke-width="0.9"/>
<line x1="316.56" y1="244.3" x2="316.56" y2="242.3" stroke="#2b2b2b" stroke-width="0.9"/>
<line x1="329.68" y1="244.3" x2="329.68" y2="242.3" stroke="#2b2b2b" stroke-width="0.9"/>
<line x1="342.8" y1="244.3" x2="342.8" y2="242.3" stroke="#2b2b2b" stroke-width="0.9"/>
<line x1="218.16" y1="244.3" x2="218.16" y2="243.1" stroke="#2b2b2b" stroke-width="0.9"/>
<line x1="231.28" y1="244.3" x2="231.28" y2="243.1" stroke="#2b2b2b" stroke-width="0.9"/>
<line x1="244.4" y1="244.3" x2="244.4" y2="243.1" stroke="#2b2b2b" stroke-width="0.9"/>
<line x1="257.52" y1="244.3" x2="257.52" y2="243.1" stroke="#2b2b2b" stroke-width="0.9"/>
<line x1="270.64" y1="244.3" x2="270.64" y2="243.1" stroke="#2b2b2b" stroke-width="0.9"/>
<line x1="283.76" y1="244.3" x2="283.76" y2="243.1" stroke="#2b2b2b" stroke-width="0.9"/>
<line x1="296.88" y1="244.3" x2="296.88" y2="243.1" stroke="#2b2b2b" stroke-width="0.9"/>
<line x1="310" y1="244.3" x2="310" y2="243.1" stroke="#2b2b2b" stroke-width="0.9"/>
<line x1="323.12" y1="244.3" x2="323.12" y2="243.1" stroke="#2b2b2b" stroke-width="0.9"/>
<line x1="336.24" y1="244.3" x2="336.24" y2="243.1" stroke="#2b2b2b" stroke-width="0.9"/>
<line x1="211.6" y1="136.5" x2="213.6" y2="136.5" stroke="#2b2b2b" stroke-width="0.9"/>
<line x1="211.6" y1="145.48" x2="213.6" y2="145.48" stroke="#2b2b2b" stroke-width="0.9"/>
<line x1="211.6" y1="154.47" x2="213.6" y2="154.47" stroke="#2b2b2b" stroke-width="0.9"/>
<line x1="211.6" y1="163.45" x2="213.6" y2="163.45" stroke="#2b2b2b" stroke-width="0.9"/>
<line x1="211.6" y1="172.43" x2="213.6" y2="172.43" stroke="#2b2b2b" stroke-width="0.9"/>
<line x1="211.6" y1="181.42" x2="213.6" y2="181.42" stroke="#2b2b2b" stroke-width="0.9"/>
<line x1="211.6" y1="190.4" x2="213.6" y2="190.4" stroke="#2b2b2b" stroke-width="0.9"/>
<line x1="211.6" y1="199.38" x2="213.6" y2="199.38" stroke="#2b2b2b" stroke-width="0.9"/>
<line x1="211.6" y1="208.37" x2="213.6" y2="208.37" stroke="#2b2b2b" stroke-width="0.9"/>
<line x1="211.6" y1="217.35" x2="213.6" y2="217.35" stroke="#2b2b2b" stroke-width="0.9"/>
<line x1="211.6" y1="226.33" x2="213.6" y2="226.33" stroke="#2b2b2b" stroke-width="0.9"/>
<line x1="211.6" y1="235.32" x2="213.6" y2="235.32" stroke="#2b2b2b" stroke-width="0.9"/>
<line x1="211.6" y1="244.3" x2="213.6" y2="244.3" stroke="#2b2b2b" stroke-width="0.9"/>
<text x="211.3" y="252.2" font-size="6.8" text-anchor="middle" fill="#1a1a1a" stroke="#1a1a1a" stroke-width="0.3" font-weight="bold">-1.0</text>
<text x="224.42" y="252.2" font-size="6.8" text-anchor="middle" fill="#1a1a1a" stroke="#1a1a1a" stroke-width="0.3" font-weight="bold">-0.8</text>
<text x="237.54" y="252.2" font-size="6.8" text-anchor="middle" fill="#1a1a1a" stroke="#1a1a1a" stroke-width="0.3" font-weight="bold">-0.6</text>
<text x="250.66" y="252.2" font-size="6.8" text-anchor="middle" fill="#1a1a1a" stroke="#1a1a1a" stroke-width="0.3" font-weight="bold">-0.4</text>
<text x="263.78" y="252.2" font-size="6.8" text-anchor="middle" fill="#1a1a1a" stroke="#1a1a1a" stroke-width="0.3" font-weight="bold">-0.2</text>
<text x="276.9" y="252.2" font-size="6.8" text-anchor="middle" fill="#1a1a1a" stroke="#1a1a1a" stroke-width="0.3" font-weight="bold">0</text>
<text x="290.02" y="252.2" font-size="6.8" text-anchor="middle" fill="#1a1a1a" stroke="#1a1a1a" stroke-width="0.3" font-weight="bold">0.2</text>
<text x="303.14" y="252.2" font-size="6.8" text-anchor="middle" fill="#1a1a1a" stroke="#1a1a1a" stroke-width="0.3" font-weight="bold">0.4</text>
<text x="316.26" y="252.2" font-size="6.8" text-anchor="middle" fill="#1a1a1a" stroke="#1a1a1a" stroke-width="0.3" font-weight="bold">0.6</text>
<text x="329.38" y="252.2" font-size="6.8" text-anchor="middle" fill="#1a1a1a" stroke="#1a1a1a" stroke-width="0.3" font-weight="bold">0.8</text>
<text x="342.5" y="252.2" font-size="6.8" text-anchor="middle" fill="#1a1a1a" stroke="#1a1a1a" stroke-width="0.3" font-weight="bold">1.0</text>
<text x="209.2" y="139.1" font-size="6.6" text-anchor="end" fill="#1a1a1a" stroke="#1a1a1a" stroke-width="0.3" font-weight="bold" letter-spacing="0.15">10<tspan dy="-2.6" font-size="4.2">-4</tspan></text>
<text x="209.2" y="148.08" font-size="6.6" text-anchor="end" fill="#1a1a1a" stroke="#1a1a1a" stroke-width="0.3" font-weight="bold" letter-spacing="0.15">10<tspan dy="-2.6" font-size="4.2">-5</tspan></text>
<text x="209.2" y="157.07" font-size="6.6" text-anchor="end" fill="#1a1a1a" stroke="#1a1a1a" stroke-width="0.3" font-weight="bold" letter-spacing="0.15">10<tspan dy="-2.6" font-size="4.2">-6</tspan></text>
<text x="209.2" y="166.05" font-size="6.6" text-anchor="end" fill="#1a1a1a" stroke="#1a1a1a" stroke-width="0.3" font-weight="bold" letter-spacing="0.15">10<tspan dy="-2.6" font-size="4.2">-7</tspan></text>
<text x="209.2" y="175.03" font-size="6.6" text-anchor="end" fill="#1a1a1a" stroke="#1a1a1a" stroke-width="0.3" font-weight="bold" letter-spacing="0.15">10<tspan dy="-2.6" font-size="4.2">-8</tspan></text>
<text x="209.2" y="184.02" font-size="6.6" text-anchor="end" fill="#1a1a1a" stroke="#1a1a1a" stroke-width="0.3" font-weight="bold" letter-spacing="0.15">10<tspan dy="-2.6" font-size="4.2">-9</tspan></text>
<text x="209.2" y="193" font-size="6.6" text-anchor="end" fill="#1a1a1a" stroke="#1a1a1a" stroke-width="0.3" font-weight="bold" letter-spacing="0.15">10<tspan dy="-2.6" font-size="4.2">-10</tspan></text>
<text x="209.2" y="201.98" font-size="6.6" text-anchor="end" fill="#1a1a1a" stroke="#1a1a1a" stroke-width="0.3" font-weight="bold" letter-spacing="0.15">10<tspan dy="-2.6" font-size="4.2">-11</tspan></text>
<text x="209.2" y="210.97" font-size="6.6" text-anchor="end" fill="#1a1a1a" stroke="#1a1a1a" stroke-width="0.3" font-weight="bold" letter-spacing="0.15">10<tspan dy="-2.6" font-size="4.2">-12</tspan></text>
<text x="209.2" y="219.95" font-size="6.6" text-anchor="end" fill="#1a1a1a" stroke="#1a1a1a" stroke-width="0.3" font-weight="bold" letter-spacing="0.15">10<tspan dy="-2.6" font-size="4.2">-13</tspan></text>
<text x="209.2" y="228.93" font-size="6.6" text-anchor="end" fill="#1a1a1a" stroke="#1a1a1a" stroke-width="0.3" font-weight="bold" letter-spacing="0.15">10<tspan dy="-2.6" font-size="4.2">-14</tspan></text>
<text x="209.2" y="237.92" font-size="6.6" text-anchor="end" fill="#1a1a1a" stroke="#1a1a1a" stroke-width="0.3" font-weight="bold" letter-spacing="0.15">10<tspan dy="-2.6" font-size="4.2">-15</tspan></text>
<text x="209.2" y="246.9" font-size="6.6" text-anchor="end" fill="#1a1a1a" stroke="#1a1a1a" stroke-width="0.3" font-weight="bold" letter-spacing="0.15">10<tspan dy="-2.6" font-size="4.2">-16</tspan></text>
<text x="277.1" y="258.6" font-size="6.6" text-anchor="middle" fill="#1a1a1a" stroke="#1a1a1a" stroke-width="0.3" font-weight="bold" textLength="32.1" lengthAdjust="spacingAndGlyphs">Voltare (V)</text>
<text x="195" y="188.8" font-size="7.2" text-anchor="middle" fill="#1a1a1a" stroke="#1a1a1a" stroke-width="0.3" font-weight="bold" transform="rotate(-90 195 188.8)">Current (A)</text>
<text x="217" y="145.7" font-size="8.8" text-anchor="start" fill="#1a1a1a" stroke="#1a1a1a" stroke-width="0.4" font-weight="bold">S2</text>
<line x1="303.9" y1="225.6" x2="314.9" y2="225.6" stroke="#e8b0b8" stroke-width="1.1"/>
<line x1="303.9" y1="234" x2="314.9" y2="234" stroke="#a6dcd8" stroke-width="1.1"/>
<text x="319" y="228" font-size="6.9" text-anchor="start" fill="#1a1a1a" stroke="#1a1a1a" stroke-width="0.3" font-weight="bold">50 mA</text>
<text x="319" y="236.4" font-size="6.9" text-anchor="start" fill="#1a1a1a" stroke="#1a1a1a" stroke-width="0.3" font-weight="bold">Dark</text>
<text x="6.9" y="138" font-size="10.6" font-weight="bold" fill="#111" stroke="#111" stroke-width="0.5" letter-spacing="0.5">(c<tspan dy="2.3" font-size="7.4">1</tspan><tspan dy="-2.3">)</tspan></text>
<text x="174.4" y="137.6" font-size="10.6" font-weight="bold" fill="#111" stroke="#111" stroke-width="0.5" letter-spacing="0.5">(c<tspan dy="2.3" font-size="7.4">2</tspan><tspan dy="-2.3">)</tspan></text>
<rect x="380.6" y="136" width="130.7" height="55.9" fill="#c1fafa"/>
<rect x="380.6" y="191.9" width="130.7" height="52.9" fill="#f1f1f1"/>
<defs><linearGradient id="dg0" gradientUnits="userSpaceOnUse" x1="0" y1="171.3" x2="0" y2="206.9"><stop offset="0" stop-color="#c23a9a"/><stop offset="1" stop-color="#4a42c8"/></linearGradient></defs>
<line x1="413" y1="175.1" x2="413" y2="205.7" stroke="url(#dg0)" stroke-width="1.25" stroke-dasharray="1.1 0.9"/>
<polygon points="413,171.3 410.7,175.5 415.3,175.5" fill="#d0306e" stroke="none" stroke-width="0"/>
<circle cx="413" cy="166.2" r="1.7" fill="#d8486a"/>
<circle cx="413" cy="206.9" r="1.7" fill="#3a3ac0"/>
<defs><linearGradient id="dg1" gradientUnits="userSpaceOnUse" x1="0" y1="161.2" x2="0" y2="233.6"><stop offset="0" stop-color="#c23a9a"/><stop offset="1" stop-color="#4a42c8"/></linearGradient></defs>
<line x1="478.4" y1="165" x2="478.4" y2="232.4" stroke="url(#dg1)" stroke-width="1.25" stroke-dasharray="1.1 0.9"/>
<polygon points="478.4,161.2 476.1,165.4 480.7,165.4" fill="#d0306e" stroke="none" stroke-width="0"/>
<circle cx="478.4" cy="157" r="1.7" fill="#d8486a"/>
<circle cx="478.4" cy="233.6" r="1.7" fill="#3a3ac0"/>
<rect x="380.6" y="136" width="130.7" height="108.8" fill="none" stroke="#2b2b2b" stroke-width="1.3"/>
<line x1="380.6" y1="136" x2="382.6" y2="136" stroke="#2b2b2b" stroke-width="0.9"/>
<line x1="380.6" y1="145.89" x2="382.6" y2="145.89" stroke="#2b2b2b" stroke-width="0.9"/>
<line x1="380.6" y1="155.78" x2="382.6" y2="155.78" stroke="#2b2b2b" stroke-width="0.9"/>
<line x1="380.6" y1="165.67" x2="382.6" y2="165.67" stroke="#2b2b2b" stroke-width="0.9"/>
<line x1="380.6" y1="175.56" x2="382.6" y2="175.56" stroke="#2b2b2b" stroke-width="0.9"/>
<line x1="380.6" y1="185.45" x2="382.6" y2="185.45" stroke="#2b2b2b" stroke-width="0.9"/>
<line x1="380.6" y1="195.35" x2="382.6" y2="195.35" stroke="#2b2b2b" stroke-width="0.9"/>
<line x1="380.6" y1="205.24" x2="382.6" y2="205.24" stroke="#2b2b2b" stroke-width="0.9"/>
<line x1="380.6" y1="215.13" x2="382.6" y2="215.13" stroke="#2b2b2b" stroke-width="0.9"/>
<line x1="380.6" y1="225.02" x2="382.6" y2="225.02" stroke="#2b2b2b" stroke-width="0.9"/>
<line x1="380.6" y1="234.91" x2="382.6" y2="234.91" stroke="#2b2b2b" stroke-width="0.9"/>
<line x1="380.6" y1="244.8" x2="382.6" y2="244.8" stroke="#2b2b2b" stroke-width="0.9"/>
<line x1="413" y1="244.8" x2="413" y2="242.8" stroke="#2b2b2b" stroke-width="0.9"/>
<line x1="478.4" y1="244.8" x2="478.4" y2="242.8" stroke="#2b2b2b" stroke-width="0.9"/>
<text x="378.2" y="138.6" font-size="6.6" text-anchor="end" fill="#1a1a1a" stroke="#1a1a1a" stroke-width="0.3" font-weight="bold" letter-spacing="0.15">10<tspan dy="-2.6" font-size="4.2">-5</tspan></text>
<text x="378.2" y="148.49" font-size="6.6" text-anchor="end" fill="#1a1a1a" stroke="#1a1a1a" stroke-width="0.3" font-weight="bold" letter-spacing="0.15">10<tspan dy="-2.6" font-size="4.2">-6</tspan></text>
<text x="378.2" y="158.38" font-size="6.6" text-anchor="end" fill="#1a1a1a" stroke="#1a1a1a" stroke-width="0.3" font-weight="bold" letter-spacing="0.15">10<tspan dy="-2.6" font-size="4.2">-7</tspan></text>
<text x="378.2" y="168.27" font-size="6.6" text-anchor="end" fill="#1a1a1a" stroke="#1a1a1a" stroke-width="0.3" font-weight="bold" letter-spacing="0.15">10<tspan dy="-2.6" font-size="4.2">-8</tspan></text>
<text x="378.2" y="178.16" font-size="6.6" text-anchor="end" fill="#1a1a1a" stroke="#1a1a1a" stroke-width="0.3" font-weight="bold" letter-spacing="0.15">10<tspan dy="-2.6" font-size="4.2">-9</tspan></text>
<text x="378.2" y="188.05" font-size="6.6" text-anchor="end" fill="#1a1a1a" stroke="#1a1a1a" stroke-width="0.3" font-weight="bold" letter-spacing="0.15">10<tspan dy="-2.6" font-size="4.2">-10</tspan></text>
<text x="378.2" y="197.95" font-size="6.6" text-anchor="end" fill="#1a1a1a" stroke="#1a1a1a" stroke-width="0.3" font-weight="bold" letter-spacing="0.15">10<tspan dy="-2.6" font-size="4.2">-11</tspan></text>
<text x="378.2" y="207.84" font-size="6.6" text-anchor="end" fill="#1a1a1a" stroke="#1a1a1a" stroke-width="0.3" font-weight="bold" letter-spacing="0.15">10<tspan dy="-2.6" font-size="4.2">-12</tspan></text>
<text x="378.2" y="217.73" font-size="6.6" text-anchor="end" fill="#1a1a1a" stroke="#1a1a1a" stroke-width="0.3" font-weight="bold" letter-spacing="0.15">10<tspan dy="-2.6" font-size="4.2">-13</tspan></text>
<text x="378.2" y="227.62" font-size="6.6" text-anchor="end" fill="#1a1a1a" stroke="#1a1a1a" stroke-width="0.3" font-weight="bold" letter-spacing="0.15">10<tspan dy="-2.6" font-size="4.2">-14</tspan></text>
<text x="378.2" y="237.51" font-size="6.6" text-anchor="end" fill="#1a1a1a" stroke="#1a1a1a" stroke-width="0.3" font-weight="bold" letter-spacing="0.15">10<tspan dy="-2.6" font-size="4.2">-15</tspan></text>
<text x="378.2" y="247.4" font-size="6.6" text-anchor="end" fill="#1a1a1a" stroke="#1a1a1a" stroke-width="0.3" font-weight="bold" letter-spacing="0.15">10<tspan dy="-2.6" font-size="4.2">-16</tspan></text>
<text x="384.7" y="141.9" font-size="6.8" text-anchor="start" fill="#d03a4a" stroke="#d03a4a" stroke-width="0.3" font-weight="bold">@LED-50mA</text>
<text x="384.7" y="243" font-size="6.8" text-anchor="start" fill="#3a3ab8" stroke="#3a3ab8" stroke-width="0.3" font-weight="bold">@LED-0mA</text>
<text x="416" y="190.8" font-size="8.1" text-anchor="start" fill="#1a1a1a" stroke="#1a1a1a" stroke-width="0.3" font-weight="bold">~3.54E4</text>
<text x="481.6" y="190.8" font-size="8.1" text-anchor="start" fill="#1a1a1a" stroke="#1a1a1a" stroke-width="0.3" font-weight="bold">~5.14E7</text>
<text x="413.2" y="253.4" font-size="6.9" text-anchor="middle" fill="#1a1a1a" stroke="#1a1a1a" stroke-width="0.3" font-weight="bold">Sample 1</text>
<text x="478.4" y="253.4" font-size="6.9" text-anchor="middle" fill="#1a1a1a" stroke="#1a1a1a" stroke-width="0.3" font-weight="bold">Sample 2</text>
<text x="365" y="191" font-size="7.2" text-anchor="middle" fill="#1a1a1a" stroke="#1a1a1a" stroke-width="0.3" font-weight="bold" transform="rotate(-90 365 191)">Current (A)</text>
<text x="346.9" y="139" font-size="11" font-weight="bold" fill="#111" stroke="#111" stroke-width="0.5" letter-spacing="0.3">(d)</text>
<polyline points="60.3,325 105.8,310.4 150.8,265.5" fill="none" stroke="#e88a90" stroke-width="0.9" stroke-linejoin="round"/>
<polyline points="60.3,368.7 105.8,353.5 150.8,326.1" fill="none" stroke="#cc4a58" stroke-width="1" stroke-linejoin="round"/>
<circle cx="60.3" cy="368.7" r="1.5" fill="#c84458"/>
<circle cx="105.8" cy="353.5" r="1.5" fill="#c84458"/>
<circle cx="150.8" cy="326.1" r="1.5" fill="#c84458"/>
<circle cx="60.3" cy="325" r="1.5" fill="#b83048"/>
<circle cx="105.8" cy="310.4" r="1.5" fill="#b83048"/>
<circle cx="150.8" cy="265.5" r="1.5" fill="#b83048"/>
<rect x="37.5" y="264" width="136.1" height="109" fill="none" stroke="#2b2b2b" stroke-width="1.3"/>
<line x1="37.5" y1="372.9" x2="39.5" y2="372.9" stroke="#2b2b2b" stroke-width="0.9"/>
<line x1="37.5" y1="355.6" x2="39.5" y2="355.6" stroke="#2b2b2b" stroke-width="0.9"/>
<line x1="37.5" y1="338.3" x2="39.5" y2="338.3" stroke="#2b2b2b" stroke-width="0.9"/>
<line x1="37.5" y1="321" x2="39.5" y2="321" stroke="#2b2b2b" stroke-width="0.9"/>
<line x1="37.5" y1="303.7" x2="39.5" y2="303.7" stroke="#2b2b2b" stroke-width="0.9"/>
<line x1="37.5" y1="286.4" x2="39.5" y2="286.4" stroke="#2b2b2b" stroke-width="0.9"/>
<line x1="37.5" y1="269.1" x2="39.5" y2="269.1" stroke="#2b2b2b" stroke-width="0.9"/>
<line x1="37.5" y1="364.25" x2="38.7" y2="364.25" stroke="#2b2b2b" stroke-width="0.9"/>
<line x1="37.5" y1="346.95" x2="38.7" y2="346.95" stroke="#2b2b2b" stroke-width="0.9"/>
<line x1="37.5" y1="329.65" x2="38.7" y2="329.65" stroke="#2b2b2b" stroke-width="0.9"/>
<line x1="37.5" y1="312.35" x2="38.7" y2="312.35" stroke="#2b2b2b" stroke-width="0.9"/>
<line x1="37.5" y1="295.05" x2="38.7" y2="295.05" stroke="#2b2b2b" stroke-width="0.9"/>
<line x1="37.5" y1="277.75" x2="38.7" y2="277.75" stroke="#2b2b2b" stroke-width="0.9"/>
<line x1="60.3" y1="373" x2="60.3" y2="371" stroke="#2b2b2b" stroke-width="0.9"/>
<line x1="105.8" y1="373" x2="105.8" y2="371" stroke="#2b2b2b" stroke-width="0.9"/>
<line x1="150.8" y1="373" x2="150.8" y2="371" stroke="#2b2b2b" stroke-width="0.9"/>
<line x1="83" y1="373" x2="83" y2="371.8" stroke="#2b2b2b" stroke-width="0.9"/>
<line x1="128.3" y1="373" x2="128.3" y2="371.8" stroke="#2b2b2b" stroke-width="0.9"/>
<text x="35.1" y="375" font-size="6.9" text-anchor="end" fill="#1a1a1a" stroke="#1a1a1a" stroke-width="0.3" font-weight="bold">0</text>
<text x="35.1" y="357.7" font-size="6.9" text-anchor="end" fill="#1a1a1a" stroke="#1a1a1a" stroke-width="0.3" font-weight="bold">40</text>
<text x="35.1" y="340.4" font-size="6.9" text-anchor="end" fill="#1a1a1a" stroke="#1a1a1a" stroke-width="0.3" font-weight="bold">80</text>
<text x="35.1" y="323.1" font-size="6.9" text-anchor="end" fill="#1a1a1a" stroke="#1a1a1a" stroke-width="0.3" font-weight="bold">120</text>
<text x="35.1" y="305.8" font-size="6.9" text-anchor="end" fill="#1a1a1a" stroke="#1a1a1a" stroke-width="0.3" font-weight="bold">160</text>
<text x="35.1" y="288.5" font-size="6.9" text-anchor="end" fill="#1a1a1a" stroke="#1a1a1a" stroke-width="0.3" font-weight="bold">200</text>
<text x="35.1" y="271.2" font-size="6.9" text-anchor="end" fill="#1a1a1a" stroke="#1a1a1a" stroke-width="0.3" font-weight="bold">240</text>
<text x="60.3" y="380.3" font-size="7" text-anchor="middle" fill="#1a1a1a" stroke="#1a1a1a" stroke-width="0.3" font-weight="bold">0</text>
<text x="105.8" y="380.3" font-size="7" text-anchor="middle" fill="#1a1a1a" stroke="#1a1a1a" stroke-width="0.3" font-weight="bold">-2</text>
<text x="150.8" y="380.3" font-size="7" text-anchor="middle" fill="#1a1a1a" stroke="#1a1a1a" stroke-width="0.3" font-weight="bold">-4</text>
<text x="103.8" y="385.6" font-size="6.8" text-anchor="middle" fill="#1a1a1a" stroke="#1a1a1a" stroke-width="0.3" font-weight="bold" textLength="34.2" lengthAdjust="spacingAndGlyphs">Voltage (V)</text>
<text x="23.6" y="318.4" font-size="7" text-anchor="middle" fill="#1a1a1a" stroke="#1a1a1a" stroke-width="0.3" font-weight="bold" transform="rotate(-90 23.6 318.4)">Responsivity (A/W)</text>
<line x1="53.8" y1="268" x2="67.7" y2="268" stroke="#d85060" stroke-width="0.8"/>
<circle cx="61.5" cy="268" r="1.3" fill="#c84458"/>
<text x="69.2" y="270.3" font-size="6" text-anchor="start" fill="#1a1a1a" stroke="#1a1a1a" stroke-width="0.3" font-weight="bold">S 1</text>
<line x1="80.3" y1="268" x2="93.8" y2="268" stroke="#e88a90" stroke-width="0.8"/>
<circle cx="88" cy="268" r="1.3" fill="#b83048"/>
<text x="94.6" y="270.3" font-size="6" text-anchor="start" fill="#1a1a1a" stroke="#1a1a1a" stroke-width="0.3" font-weight="bold">S 2</text>
<text x="7.5" y="268" font-size="11" font-weight="bold" fill="#111" stroke="#111" stroke-width="0.5" letter-spacing="0.3">(e)</text>
<polyline points="234.7,277.3 279.4,314 323.9,328" fill="none" stroke="#a2a2bc" stroke-width="1" stroke-linejoin="round"/>
<polyline points="234.5,315.3 279.4,347.1 323.9,341.2" fill="none" stroke="#3a3aa8" stroke-width="1" stroke-linejoin="round"/>
<circle cx="234.5" cy="315.3" r="1.4" fill="#2a2aa0"/>
<circle cx="279.4" cy="347.1" r="1.4" fill="#2a2aa0"/>
<circle cx="323.9" cy="341.2" r="1.4" fill="#2a2aa0"/>
<circle cx="234.7" cy="277.3" r="1.4" fill="#2a2aa0"/>
<circle cx="279.4" cy="314" r="1.4" fill="#2a2aa0"/>
<circle cx="323.9" cy="328" r="1.4" fill="#2a2aa0"/>
<rect x="212.4" y="262.8" width="133.6" height="107.8" fill="none" stroke="#2b2b2b" stroke-width="1.3"/>
<line x1="212.4" y1="370.6" x2="214.4" y2="370.6" stroke="#2b2b2b" stroke-width="0.9"/>
<line x1="212.4" y1="349.04" x2="214.4" y2="349.04" stroke="#2b2b2b" stroke-width="0.9"/>
<line x1="212.4" y1="327.48" x2="214.4" y2="327.48" stroke="#2b2b2b" stroke-width="0.9"/>
<line x1="212.4" y1="305.92" x2="214.4" y2="305.92" stroke="#2b2b2b" stroke-width="0.9"/>
<line x1="212.4" y1="284.36" x2="214.4" y2="284.36" stroke="#2b2b2b" stroke-width="0.9"/>
<line x1="212.4" y1="262.8" x2="214.4" y2="262.8" stroke="#2b2b2b" stroke-width="0.9"/>
<line x1="234.6" y1="370.6" x2="234.6" y2="368.6" stroke="#2b2b2b" stroke-width="0.9"/>
<line x1="279.4" y1="370.6" x2="279.4" y2="368.6" stroke="#2b2b2b" stroke-width="0.9"/>
<line x1="323.9" y1="370.6" x2="323.9" y2="368.6" stroke="#2b2b2b" stroke-width="0.9"/>
<line x1="257" y1="370.6" x2="257" y2="369.4" stroke="#2b2b2b" stroke-width="0.9"/>
<line x1="301.6" y1="370.6" x2="301.6" y2="369.4" stroke="#2b2b2b" stroke-width="0.9"/>
<text x="210" y="372.7" font-size="6.6" text-anchor="end" fill="#1a1a1a" stroke="#1a1a1a" stroke-width="0.3" font-weight="bold" letter-spacing="0.15">10<tspan dy="-2.6" font-size="4.2">9</tspan></text>
<text x="210" y="351.14" font-size="6.6" text-anchor="end" fill="#1a1a1a" stroke="#1a1a1a" stroke-width="0.3" font-weight="bold" letter-spacing="0.15">10<tspan dy="-2.6" font-size="4.2">10</tspan></text>
<text x="210" y="329.58" font-size="6.6" text-anchor="end" fill="#1a1a1a" stroke="#1a1a1a" stroke-width="0.3" font-weight="bold" letter-spacing="0.15">10<tspan dy="-2.6" font-size="4.2">11</tspan></text>
<text x="210" y="308.02" font-size="6.6" text-anchor="end" fill="#1a1a1a" stroke="#1a1a1a" stroke-width="0.3" font-weight="bold" letter-spacing="0.15">10<tspan dy="-2.6" font-size="4.2">12</tspan></text>
<text x="210" y="286.46" font-size="6.6" text-anchor="end" fill="#1a1a1a" stroke="#1a1a1a" stroke-width="0.3" font-weight="bold" letter-spacing="0.15">10<tspan dy="-2.6" font-size="4.2">13</tspan></text>
<text x="210" y="264.9" font-size="6.6" text-anchor="end" fill="#1a1a1a" stroke="#1a1a1a" stroke-width="0.3" font-weight="bold" letter-spacing="0.15">10<tspan dy="-2.6" font-size="4.2">14</tspan></text>
<text x="234.6" y="377.9" font-size="7" text-anchor="middle" fill="#1a1a1a" stroke="#1a1a1a" stroke-width="0.3" font-weight="bold">0</text>
<text x="279.4" y="377.9" font-size="7" text-anchor="middle" fill="#1a1a1a" stroke="#1a1a1a" stroke-width="0.3" font-weight="bold">-2</text>
<text x="323.9" y="377.9" font-size="7" text-anchor="middle" fill="#1a1a1a" stroke="#1a1a1a" stroke-width="0.3" font-weight="bold">-4</text>
<text x="278.3" y="383.4" font-size="6.7" text-anchor="middle" fill="#1a1a1a" stroke="#1a1a1a" stroke-width="0.3" font-weight="bold" textLength="33.3" lengthAdjust="spacingAndGlyphs">Voltage (V)</text>
<text x="197.4" y="312.2" font-size="6.5" text-anchor="middle" fill="#1a1a1a" stroke="#1a1a1a" stroke-width="0.3" font-weight="bold" transform="rotate(-90 197.4 312.2)" textLength="84" lengthAdjust="spacingAndGlyphs">Specific Detectivity (Jones)</text>
<line x1="282.3" y1="268.1" x2="296.2" y2="268.1" stroke="#3535b0" stroke-width="1"/>
<circle cx="289.6" cy="268.1" r="1.3" fill="#2a2aa0"/>
<text x="297.7" y="270.4" font-size="6" text-anchor="start" fill="#1a1a1a" stroke="#1a1a1a" stroke-width="0.3" font-weight="bold">S 1</text>
<line x1="308.5" y1="268.1" x2="322.4" y2="268.1" stroke="#b4b4cc" stroke-width="1"/>
<circle cx="316.2" cy="268.1" r="1.3" fill="#2a2aa0"/>
<text x="324.4" y="270.4" font-size="6" text-anchor="start" fill="#1a1a1a" stroke="#1a1a1a" stroke-width="0.3" font-weight="bold">S 2</text>
<text x="179.2" y="268" font-size="11" font-weight="bold" fill="#111" stroke="#111" stroke-width="0.5" letter-spacing="0.3">(f)</text>
<polyline points="381,357.2 381.4,357.04 381.8,356.88 382.2,356.72 382.6,356.56 383,356.4 383.4,356.24 383.8,356.08 384.2,355.91 384.6,355.72 385,355.53 385.4,355.34 385.8,355.16 386.2,354.97 386.6,354.78 387,354.59 387.4,354.33 387.8,353.98 388.2,353.64 388.6,353.29 389,352.95 389.4,352.6 389.8,350.4 390.2,348.2 390.6,346 391,340.4 391.4,334.8 391.8,329.2 392.2,323.6 392.6,318 393,314.29 393.4,310.2 393.8,306.69 394.2,303.88 394.6,302.13 395,299.81 395.4,297.34 395.8,295.34 396.2,294.19 396.6,293.69 397,291.31 397.4,290.67 397.8,289.8 398.2,286.17 398.6,287.21 399,287.86 399.4,282.34 399.8,283.59 400.2,283.11 400.6,281.65 401,282.92 401.4,281.67 401.8,279.27 402.2,281.87 402.6,281.15 403,281.03 403.4,281.19 403.8,279.24 404.2,278.59 404.6,276.53 405,278.97 405.4,277.18 405.8,277.25 406.2,276.01 406.6,276.27 407,276.72 407.4,279.03 407.8,274.4 408.2,275.04 408.6,277.19 409,278.67 409.4,277.36 409.8,273.87 410.2,272.93 410.6,276.72 411,275.15 411.4,274.54 411.8,277.28 412.2,277.36 412.6,275.99 413,276.02 413.4,276.18 413.8,277.65 414.2,276.24 414.6,276.02 415,275.96 415.4,273.43 415.8,277.74 416.2,277.77 416.6,277.66 417,274.74 417.4,277.02 417.8,279.47 418.2,276.36 418.6,279.02 419,281.08 419.4,278.34 419.8,282.69 420.2,281.67 420.6,281.13 421,282.18 421.4,283.02 421.8,282.71 422.2,284.5 422.6,282.47 423,283.21 423.4,285.58 423.8,284.62 424.2,283.8 424.6,286.67 425,287.78 425.4,285.6 425.8,284.74 426.2,286.82 426.6,287.2 427,287.4 427.4,290.1 427.8,287.21 428.2,290.7 428.6,287.69 429,288.74 429.4,291.05 429.8,292.12 430.2,292.16 430.6,291.87 431,291.99 431.4,292.41 431.8,293.38 432.2,292.76 432.6,293.8 433,294.63 433.4,294.28 433.8,295.74 434.2,295.9 434.6,298.27 435,296.43 435.4,295.84 435.8,296.34 436.2,297.25 436.6,298.94 437,297.67 437.4,299.07 437.8,301.45 438.2,295.94 438.6,298.31 439,300.58 439.4,301.22 439.8,301.41 440.2,300.87 440.6,302.7 441,302.56 441.4,301.83 441.8,306.18 442.2,303.74 442.6,302.88 443,303.85 443.4,304.05 443.8,304.63 444.2,301.39 444.6,304.78 445,307.16 445.4,304.62 445.8,306.51 446.2,308.29 446.6,308.56 447,309.81 447.4,305.9 447.8,308.12 448.2,308.54 448.6,310.24 449,311.27 449.4,306.58 449.8,312.07 450.2,309.05 450.6,312.32 451,309.79 451.4,312.44 451.8,314.21 452.2,312.8 452.6,313.66 453,314.88 453.4,314.39 453.8,314.48 454.2,317.02 454.6,316.66 455,315.15 455.4,319.55 455.8,314.59 456.2,317.67 456.6,316.38 457,317.21 457.4,318.28 457.8,317.93 458.2,318.79 458.6,316.16 459,316.48 459.4,319.65 459.8,317.82 460.2,318.03 460.6,317.73 461,321.72 461.4,321.32 461.8,322.6 462.2,319.64 462.6,321.2 463,319.96 463.4,322.78 463.8,324.13 464.2,321.03 464.6,324.58 465,324.06 465.4,322.73 465.8,320.55 466.2,325.35 466.6,323.57 467,323.13 467.4,324.73 467.8,324.99 468.2,326.7 468.6,323.55 469,326.7 469.4,327.42 469.8,327.62 470.2,325.66 470.6,325.14 471,327.76 471.4,326.79 471.8,327.05 472.2,329.03 472.6,326.97 473,324.44 473.4,327.24 473.8,325.48 474.2,329.3 474.6,328.84 475,327.81 475.4,328.84 475.8,330.19 476.2,329.39 476.6,331.3 477,329.64 477.4,331.34 477.8,332.17 478.2,332.55 478.6,329.69 479,332 479.4,328.5 479.8,329.78 480.2,328.81 480.6,333.13 481,330.24 481.4,332.08 481.8,332.04 482.2,332.46 482.6,331.9 483,333.22 483.4,335.52 483.8,333.36 484.2,334.22 484.6,335.05 485,333.63 485.4,332.4 485.8,333.55 486.2,335.95 486.6,332.48 487,334.09 487.4,336.46 487.8,336.37 488.2,335.51 488.6,336.79 489,336.12 489.4,334.51 489.8,334.19 490.2,335.64 490.6,337.95 491,336.14 491.4,335.88 491.8,336.26 492.2,335.43 492.6,337.54 493,336.31 493.4,338.59 493.8,335.11 494.2,338.94 494.6,337.83 495,336.28 495.4,340.08 495.8,338.93 496.2,336.49 496.6,338.52 497,340.29 497.4,339.48 497.8,341.35 498.2,341.51 498.6,341.6 499,341.34 499.4,342.93 499.8,342.25 500.2,342.19 500.6,339 501,343.25 501.4,344.04 501.8,342.1 502.2,342.09 502.6,345.58 503,340.81 503.4,344.05 503.8,346.91 504.2,342.62 504.6,345.03 505,346.88" fill="none" stroke="#111" stroke-width="1.25" stroke-linejoin="round"/>
<polyline points="415,275.22 415.5,275.66 416,276.25 416.5,276.83 417,277.41 417.5,277.99 418,278.57 418.5,279.15 419,279.7 419.5,280.21 420,280.72 420.5,281.23 421,281.74 421.5,282.25 422,282.75 422.5,283.26 423,283.77 423.5,284.28 424,284.79 424.5,285.3 425,285.8 425.5,286.3 426,286.8 426.5,287.3 427,287.8 427.5,288.3 428,288.8 428.5,289.3 429,289.8 429.5,290.3 430,290.8 430.5,291.3 431,291.8 431.5,292.3 432,292.8 432.5,293.32 433,293.85 433.5,294.39 434,294.92 434.5,295.45 435,295.99 435.5,296.52 436,297.05 436.5,297.59 437,298.12 437.5,298.65 438,299.19 438.5,299.72 439,300.25 439.5,300.79 440,301.27 440.5,301.72 441,302.18 441.5,302.63 442,303.08 442.5,303.54 443,303.99 443.5,304.44 444,304.89 444.5,305.35 445,305.8 445.5,306.3 446,306.8 446.5,307.3 447,307.8 447.5,308.3 448,308.8 448.5,309.3 449,309.8 449.5,310.3 450,310.8 450.5,311.3 451,311.8 451.5,312.3 452,312.8 452.5,313.3 453,313.8 453.5,314.3 454,314.8 454.5,315.17 455,315.54 455.5,315.92 456,316.29 456.5,316.66 457,317.03 457.5,317.41 458,317.78 458.5,318.15 459,318.52 459.5,318.89 460,319.27 460.5,319.64 461,320.01 461.5,320.38 462,320.76 462.5,321.13 463,321.5 463.5,321.81 464,322.11 464.5,322.42 465,322.72 465.5,323.03 466,323.33 466.5,323.64 467,323.94 467.5,324.25 468,324.56 468.5,324.86 469,325.17 469.5,325.47 470,325.78 470.5,326.08 471,326.39 471.5,326.69 472,327 472.5,327.27 473,327.54 473.5,327.82 474,328.09 474.5,328.36 475,328.63 475.5,328.91 476,329.18 476.5,329.45 477,329.72 477.5,329.99 478,330.27 478.5,330.54 479,330.81 479.5,331.08 480,331.36 480.5,331.63 481,331.9 481.5,332.15 482,332.4 482.5,332.65 483,332.9 483.5,333.15 484,333.4 484.5,333.65 485,333.9 485.5,334.15 486,334.4 486.5,334.65 487,334.9 487.5,335.15 488,335.4 488.5,335.65 489,335.9 489.5,336.15 490,336.4 490.5,336.65 491,336.9 491.5,337.15 492,337.4 492.5,337.65 493,337.9 493.5,338.15 494,338.4 494.5,338.65 495,338.9 495.5,339.15 496,339.4 496.5,339.65 497,339.9 497.5,340.15 498,340.4 498.5,340.65 499,340.9 499.5,341.19 500,341.47 500.5,341.76 501,342.04 501.5,342.33 502,342.61 502.5,342.9 503,343.19 503.5,343.47 504,343.76 504.5,344.04 505,344.33" fill="none" stroke="#1c1c80" stroke-width="1.7" stroke-linejoin="round"/>
<polyline points="414.2,276.24 414.6,276.02 415,275.96 415.4,273.43 415.8,277.74 416.2,277.77 416.6,277.66 417,274.74 417.4,277.02 417.8,279.47 418.2,276.36 418.6,279.02 419,281.08 419.4,278.34 419.8,282.69 420.2,281.67 420.6,281.13 421,282.18 421.4,283.02 421.8,282.71 422.2,284.5 422.6,282.47 423,283.21 423.4,285.58 423.8,284.62 424.2,283.8 424.6,286.67 425,287.78 425.4,285.6 425.8,284.74 426.2,286.82 426.6,287.2 427,287.4 427.4,290.1 427.8,287.21 428.2,290.7 428.6,287.69 429,288.74 429.4,291.05 429.8,292.12 430.2,292.16 430.6,291.87 431,291.99 431.4,292.41 431.8,293.38 432.2,292.76 432.6,293.8 433,294.63 433.4,294.28 433.8,295.74 434.2,295.9 434.6,298.27 435,296.43 435.4,295.84 435.8,296.34 436.2,297.25 436.6,298.94 437,297.67 437.4,299.07 437.8,301.45 438.2,295.94 438.6,298.31 439,300.58 439.4,301.22 439.8,301.41 440.2,300.87 440.6,302.7 441,302.56 441.4,301.83 441.8,306.18 442.2,303.74 442.6,302.88 443,303.85 443.4,304.05 443.8,304.63 444.2,301.39 444.6,304.78 445,307.16 445.4,304.62 445.8,306.51 446.2,308.29 446.6,308.56 447,309.81 447.4,305.9 447.8,308.12 448.2,308.54 448.6,310.24 449,311.27 449.4,306.58 449.8,312.07 450.2,309.05 450.6,312.32 451,309.79 451.4,312.44 451.8,314.21 452.2,312.8 452.6,313.66 453,314.88 453.4,314.39 453.8,314.48 454.2,317.02 454.6,316.66 455,315.15 455.4,319.55 455.8,314.59 456.2,317.67 456.6,316.38 457,317.21 457.4,318.28 457.8,317.93 458.2,318.79 458.6,316.16 459,316.48 459.4,319.65 459.8,317.82 460.2,318.03 460.6,317.73 461,321.72 461.4,321.32 461.8,322.6 462.2,319.64 462.6,321.2 463,319.96 463.4,322.78 463.8,324.13 464.2,321.03 464.6,324.58 465,324.06 465.4,322.73 465.8,320.55 466.2,325.35 466.6,323.57 467,323.13 467.4,324.73 467.8,324.99 468.2,326.7 468.6,323.55 469,326.7 469.4,327.42 469.8,327.62 470.2,325.66 470.6,325.14 471,327.76 471.4,326.79 471.8,327.05 472.2,329.03 472.6,326.97 473,324.44 473.4,327.24 473.8,325.48 474.2,329.3 474.6,328.84 475,327.81 475.4,328.84 475.8,330.19 476.2,329.39 476.6,331.3 477,329.64 477.4,331.34 477.8,332.17 478.2,332.55 478.6,329.69 479,332 479.4,328.5 479.8,329.78 480.2,328.81 480.6,333.13 481,330.24 481.4,332.08 481.8,332.04 482.2,332.46 482.6,331.9 483,333.22 483.4,335.52 483.8,333.36 484.2,334.22 484.6,335.05 485,333.63 485.4,332.4 485.8,333.55 486.2,335.95 486.6,332.48 487,334.09 487.4,336.46 487.8,336.37 488.2,335.51 488.6,336.79 489,336.12 489.4,334.51 489.8,334.19 490.2,335.64 490.6,337.95 491,336.14 491.4,335.88 491.8,336.26 492.2,335.43 492.6,337.54 493,336.31 493.4,338.59 493.8,335.11 494.2,338.94 494.6,337.83 495,336.28 495.4,340.08 495.8,338.93 496.2,336.49 496.6,338.52 497,340.29 497.4,339.48 497.8,341.35 498.2,341.51 498.6,341.6 499,341.34 499.4,342.93 499.8,342.25 500.2,342.19 500.6,339 501,343.25 501.4,344.04 501.8,342.1 502.2,342.09 502.6,345.58 503,340.81 503.4,344.05 503.8,346.91 504.2,342.62 504.6,345.03 505,346.88" fill="none" stroke="#101024" stroke-width="0.8" stroke-linejoin="round" opacity="0.75"/>
<polyline points="381,357.2 381.4,357.04 381.8,356.88 382.2,356.72 382.6,356.56 383,356.4 383.4,356.24 383.8,356.08 384.2,355.91 384.6,355.72 385,355.53 385.4,355.34 385.8,355.16 386.2,354.97 386.6,354.78 387,354.59 387.4,354.35 387.8,354.05 388.2,353.75 388.6,353.45 389,353.15 389.4,352.56 389.8,351.69 390.2,350.81 390.6,349.94 391,348.19 391.4,345.56 391.8,342.94 392.2,340.31 392.6,337.75 393,335.25 393.4,332.05 393.8,330.67 394.2,330.15 394.6,329.09 395,327.8 395.4,326.69 395.8,327.6 396.2,326.41 396.6,324.65 397,323.93 397.4,326.26 397.8,324.66 398.2,325.17 398.6,323.24 399,320.39 399.4,321.35 399.8,317.51 400.2,318.85 400.6,319.21 401,319.42 401.4,317.16 401.8,317.7 402.2,318.31 402.6,318.02 403,318.19 403.4,317.44 403.8,316.54 404.2,317.87 404.6,316.69 405,315.33 405.4,315.42 405.8,316.09 406.2,315.83 406.6,316.14 407,315.88 407.4,316.07 407.8,315.6 408.2,314.03 408.6,316.25 409,317.06 409.4,316.17 409.8,315.28 410.2,316.09 410.6,314.14 411,312.83 411.4,315.42 411.8,314.04 412.2,316.24 412.6,313.73 413,311.6 413.4,313.69 413.8,317.18 414.2,314.48 414.6,313.22 415,314.11 415.4,315.91 415.8,315.95 416.2,315.58 416.6,317.42 417,316.44 417.4,315.52 417.8,316.43 418.2,317.92 418.6,317.07 419,317.21 419.4,314.43 419.8,315.77 420.2,317.09 420.6,315.91 421,317.96 421.4,317.53 421.8,318.15 422.2,316.85 422.6,320.78 423,319.22 423.4,317.46 423.8,318.08 424.2,321.67 424.6,317.9 425,319.75 425.4,320.1 425.8,318.99 426.2,317.62 426.6,319.65 427,320.05 427.4,321.23 427.8,320.9 428.2,320.02 428.6,321.28 429,320.99 429.4,320.68 429.8,320.62 430.2,320.35 430.6,321.75 431,319.54 431.4,320.25 431.8,321.24 432.2,319.4 432.6,320.93 433,318.94 433.4,320.87 433.8,322.7 434.2,322.86 434.6,322.21 435,322.15 435.4,320.74 435.8,325.31 436.2,323.72 436.6,324.69 437,322.21 437.4,323.34 437.8,321.32 438.2,325.01 438.6,325.41 439,321.77 439.4,324.45 439.8,325.56 440.2,322.51 440.6,322.62 441,323.83 441.4,324.6 441.8,323.75 442.2,325.87 442.6,326.35 443,327.06 443.4,327.31 443.8,328.55 444.2,328.25 444.6,325.07 445,326.32 445.4,325.73 445.8,325.87 446.2,327.37 446.6,327.65 447,328.46 447.4,325.82 447.8,326.45 448.2,328.25 448.6,328.17 449,328.18 449.4,328.67 449.8,327.89 450.2,330.05 450.6,329.78 451,329.38 451.4,328.79 451.8,329.66 452.2,326.43 452.6,328.98 453,330.55 453.4,328.67 453.8,331.17 454.2,331.28 454.6,329.39 455,331.08 455.4,331.17 455.8,332.38 456.2,332.75 456.6,332.05 457,331.12 457.4,332.24 457.8,332.52 458.2,333.76 458.6,333.34 459,332.14 459.4,331.45 459.8,332.95 460.2,332.62 460.6,332.29 461,333.8 461.4,333.46 461.8,334.44 462.2,335.17 462.6,334.07 463,337.94 463.4,334.51 463.8,336.57 464.2,335.39 464.6,336.88 465,332.3 465.4,334.64 465.8,336.13 466.2,336.75 466.6,339.23 467,336.66 467.4,338.09 467.8,337.54 468.2,337.93 468.6,337.48 469,336.72 469.4,337.76 469.8,335.76 470.2,338.95 470.6,336.13 471,337.98 471.4,340.65 471.8,337.63 472.2,338.09 472.6,339.76 473,338.36 473.4,337.36 473.8,338.93 474.2,339.49 474.6,339.8 475,337.92 475.4,341.46 475.8,341.47 476.2,339.38 476.6,339.84 477,339.03 477.4,341.65 477.8,338.92 478.2,340.91 478.6,339.48 479,339.32 479.4,341.35 479.8,342.31 480.2,340.63 480.6,339.86 481,342 481.4,340.95 481.8,341.56 482.2,343.32 482.6,342.91 483,340.8 483.4,344.7 483.8,341.74 484.2,342.92 484.6,341.11 485,342.04 485.4,339.86 485.8,344.75 486.2,344.3 486.6,340.94 487,340.67 487.4,340.63 487.8,344.53 488.2,342.44 488.6,343.1 489,342.88 489.4,343.26 489.8,342.07 490.2,343.69 490.6,341.84 491,343.8 491.4,344.44 491.8,344.77 492.2,343.95 492.6,343.16 493,344.72 493.4,343.97 493.8,346.85 494.2,345.9 494.6,344.82 495,344.46 495.4,344.27 495.8,344.07 496.2,344.98 496.6,345.98 497,346.4 497.4,346.59 497.8,348.77 498.2,345.11 498.6,346.2 499,350.07 499.4,343.93 499.8,345.89 500.2,346.97 500.6,347.09 501,347.58 501.4,346.85 501.8,347.82 502.2,347.54 502.6,348.66 503,345.21 503.4,346.71 503.8,348.05 504.2,346.81 504.6,346.93 505,349.34" fill="none" stroke="#111" stroke-width="1.15" stroke-linejoin="round"/>
<polyline points="414,315.02 414.5,315.05 415,315.14 415.5,315.22 416,315.31 416.5,315.4 417,315.48 417.5,315.57 418,315.66 418.5,315.74 419,315.83 419.5,315.91 420,316 420.5,316.26 421,316.51 421.5,316.77 422,317.03 422.5,317.29 423,317.54 423.5,317.8 424,318.06 424.5,318.32 425,318.57 425.5,318.83 426,319.09 426.5,319.35 427,319.57 427.5,319.74 428,319.92 428.5,320.09 429,320.26 429.5,320.44 430,320.61 430.5,320.78 431,320.96 431.5,321.13 432,321.31 432.5,321.48 433,321.65 433.5,321.83 434,322 434.5,322.23 435,322.47 435.5,322.7 436,322.93 436.5,323.17 437,323.4 437.5,323.63 438,323.87 438.5,324.1 439,324.33 439.5,324.57 440,324.8 440.5,325.03 441,325.27 441.5,325.5 442,325.73 442.5,325.97 443,326.2 443.5,326.4 444,326.6 444.5,326.8 445,327 445.5,327.2 446,327.4 446.5,327.6 447,327.8 447.5,328 448,328.2 448.5,328.4 449,328.6 449.5,328.8 450,329 450.5,329.25 451,329.5 451.5,329.75 452,330 452.5,330.25 453,330.5 453.5,330.75 454,331 454.5,331.21 455,331.42 455.5,331.63 456,331.84 456.5,332.06 457,332.27 457.5,332.48 458,332.69 458.5,332.9 459,333.11 459.5,333.32 460,333.53 460.5,333.74 461,333.96 461.5,334.17 462,334.38 462.5,334.59 463,334.8 463.5,334.98 464,335.16 464.5,335.33 465,335.51 465.5,335.69 466,335.87 466.5,336.04 467,336.22 467.5,336.4 468,336.58 468.5,336.76 469,336.93 469.5,337.11 470,337.29 470.5,337.47 471,337.64 471.5,337.82 472,338 472.5,338.16 473,338.32 473.5,338.48 474,338.64 474.5,338.81 475,338.97 475.5,339.13 476,339.29 476.5,339.45 477,339.61 477.5,339.77 478,339.93 478.5,340.09 479,340.26 479.5,340.42 480,340.58 480.5,340.74 481,340.9 481.5,341.05 482,341.2 482.5,341.35 483,341.5 483.5,341.65 484,341.8 484.5,341.95 485,342.1 485.5,342.25 486,342.4 486.5,342.55 487,342.7 487.5,342.85 488,343 488.5,343.15 489,343.3 489.5,343.45 490,343.6 490.5,343.75 491,343.9 491.5,344.05 492,344.2 492.5,344.35 493,344.5 493.5,344.65 494,344.8 494.5,344.95 495,345.1 495.5,345.25 496,345.4 496.5,345.55 497,345.7 497.5,345.85 498,346 498.5,346.15 499,346.3 499.5,346.48 500,346.67 500.5,346.85 501,347.03 501.5,347.21 502,347.4 502.5,347.58 503,347.76 503.5,347.94 504,348.13 504.5,348.31 505,348.49" fill="none" stroke="#3cc03c" stroke-width="1.3" stroke-linejoin="round"/>
<polyline points="414.2,314.48 414.6,313.22 415,314.11 415.4,315.91 415.8,315.95 416.2,315.58 416.6,317.42 417,316.44 417.4,315.52 417.8,316.43 418.2,317.92 418.6,317.07 419,317.21 419.4,314.43 419.8,315.77 420.2,317.09 420.6,315.91 421,317.96 421.4,317.53 421.8,318.15 422.2,316.85 422.6,320.78 423,319.22 423.4,317.46 423.8,318.08 424.2,321.67 424.6,317.9 425,319.75 425.4,320.1 425.8,318.99 426.2,317.62 426.6,319.65 427,320.05 427.4,321.23 427.8,320.9 428.2,320.02 428.6,321.28 429,320.99 429.4,320.68 429.8,320.62 430.2,320.35 430.6,321.75 431,319.54 431.4,320.25 431.8,321.24 432.2,319.4 432.6,320.93 433,318.94 433.4,320.87 433.8,322.7 434.2,322.86 434.6,322.21 435,322.15 435.4,320.74 435.8,325.31 436.2,323.72 436.6,324.69 437,322.21 437.4,323.34 437.8,321.32 438.2,325.01 438.6,325.41 439,321.77 439.4,324.45 439.8,325.56 440.2,322.51 440.6,322.62 441,323.83 441.4,324.6 441.8,323.75 442.2,325.87 442.6,326.35 443,327.06 443.4,327.31 443.8,328.55 444.2,328.25 444.6,325.07 445,326.32 445.4,325.73 445.8,325.87 446.2,327.37 446.6,327.65 447,328.46 447.4,325.82 447.8,326.45 448.2,328.25 448.6,328.17 449,328.18 449.4,328.67 449.8,327.89 450.2,330.05 450.6,329.78 451,329.38 451.4,328.79 451.8,329.66 452.2,326.43 452.6,328.98 453,330.55 453.4,328.67 453.8,331.17 454.2,331.28 454.6,329.39 455,331.08 455.4,331.17 455.8,332.38 456.2,332.75 456.6,332.05 457,331.12 457.4,332.24 457.8,332.52 458.2,333.76 458.6,333.34 459,332.14 459.4,331.45 459.8,332.95 460.2,332.62 460.6,332.29 461,333.8 461.4,333.46 461.8,334.44 462.2,335.17 462.6,334.07 463,337.94 463.4,334.51 463.8,336.57 464.2,335.39 464.6,336.88 465,332.3 465.4,334.64 465.8,336.13 466.2,336.75 466.6,339.23 467,336.66 467.4,338.09 467.8,337.54 468.2,337.93 468.6,337.48 469,336.72 469.4,337.76 469.8,335.76 470.2,338.95 470.6,336.13 471,337.98 471.4,340.65 471.8,337.63 472.2,338.09 472.6,339.76 473,338.36 473.4,337.36 473.8,338.93 474.2,339.49 474.6,339.8 475,337.92 475.4,341.46 475.8,341.47 476.2,339.38 476.6,339.84 477,339.03 477.4,341.65 477.8,338.92 478.2,340.91 478.6,339.48 479,339.32 479.4,341.35 479.8,342.31 480.2,340.63 480.6,339.86 481,342 481.4,340.95 481.8,341.56 482.2,343.32 482.6,342.91 483,340.8 483.4,344.7 483.8,341.74 484.2,342.92 484.6,341.11 485,342.04 485.4,339.86 485.8,344.75 486.2,344.3 486.6,340.94 487,340.67 487.4,340.63 487.8,344.53 488.2,342.44 488.6,343.1 489,342.88 489.4,343.26 489.8,342.07 490.2,343.69 490.6,341.84 491,343.8 491.4,344.44 491.8,344.77 492.2,343.95 492.6,343.16 493,344.72 493.4,343.97 493.8,346.85 494.2,345.9 494.6,344.82 495,344.46 495.4,344.27 495.8,344.07 496.2,344.98 496.6,345.98 497,346.4 497.4,346.59 497.8,348.77 498.2,345.11 498.6,346.2 499,350.07 499.4,343.93 499.8,345.89 500.2,346.97 500.6,347.09 501,347.58 501.4,346.85 501.8,347.82 502.2,347.54 502.6,348.66 503,345.21 503.4,346.71 503.8,348.05 504.2,346.81 504.6,346.93 505,349.34" fill="none" stroke="#102010" stroke-width="0.6" stroke-linejoin="round" opacity="0.55"/>
<rect x="381.3" y="262.7" width="130.7" height="104.8" fill="none" stroke="#2b2b2b" stroke-width="1.3"/>
<line x1="381.3" y1="357.2" x2="383.3" y2="357.2" stroke="#2b2b2b" stroke-width="0.9"/>
<line x1="381.3" y1="336.3" x2="383.3" y2="336.3" stroke="#2b2b2b" stroke-width="0.9"/>
<line x1="381.3" y1="315.4" x2="383.3" y2="315.4" stroke="#2b2b2b" stroke-width="0.9"/>
<line x1="381.3" y1="294.5" x2="383.3" y2="294.5" stroke="#2b2b2b" stroke-width="0.9"/>
<line x1="381.3" y1="273.6" x2="383.3" y2="273.6" stroke="#2b2b2b" stroke-width="0.9"/>
<line x1="381.3" y1="346.75" x2="382.5" y2="346.75" stroke="#2b2b2b" stroke-width="0.9"/>
<line x1="381.3" y1="325.85" x2="382.5" y2="325.85" stroke="#2b2b2b" stroke-width="0.9"/>
<line x1="381.3" y1="304.95" x2="382.5" y2="304.95" stroke="#2b2b2b" stroke-width="0.9"/>
<line x1="381.3" y1="284.05" x2="382.5" y2="284.05" stroke="#2b2b2b" stroke-width="0.9"/>
<line x1="381.1" y1="367.5" x2="381.1" y2="365.5" stroke="#2b2b2b" stroke-width="0.9"/>
<line x1="413.7" y1="367.5" x2="413.7" y2="365.5" stroke="#2b2b2b" stroke-width="0.9"/>
<line x1="446.3" y1="367.5" x2="446.3" y2="365.5" stroke="#2b2b2b" stroke-width="0.9"/>
<line x1="478.9" y1="367.5" x2="478.9" y2="365.5" stroke="#2b2b2b" stroke-width="0.9"/>
<line x1="511.5" y1="367.5" x2="511.5" y2="365.5" stroke="#2b2b2b" stroke-width="0.9"/>
<line x1="397.4" y1="367.5" x2="397.4" y2="366.3" stroke="#2b2b2b" stroke-width="0.9"/>
<line x1="430" y1="367.5" x2="430" y2="366.3" stroke="#2b2b2b" stroke-width="0.9"/>
<line x1="462.6" y1="367.5" x2="462.6" y2="366.3" stroke="#2b2b2b" stroke-width="0.9"/>
<line x1="495.2" y1="367.5" x2="495.2" y2="366.3" stroke="#2b2b2b" stroke-width="0.9"/>
<text x="378.7" y="359.3" font-size="6.9" text-anchor="end" fill="#1a1a1a" stroke="#1a1a1a" stroke-width="0.3" font-weight="bold">0</text>
<text x="378.7" y="338.4" font-size="6.9" text-anchor="end" fill="#1a1a1a" stroke="#1a1a1a" stroke-width="0.3" font-weight="bold">500</text>
<text x="378.7" y="317.5" font-size="6.9" text-anchor="end" fill="#1a1a1a" stroke="#1a1a1a" stroke-width="0.3" font-weight="bold">1000</text>
<text x="378.7" y="296.6" font-size="6.9" text-anchor="end" fill="#1a1a1a" stroke="#1a1a1a" stroke-width="0.3" font-weight="bold">1500</text>
<text x="378.7" y="275.7" font-size="6.9" text-anchor="end" fill="#1a1a1a" stroke="#1a1a1a" stroke-width="0.3" font-weight="bold">2000</text>
<text x="381.1" y="375.5" font-size="6.9" text-anchor="middle" fill="#1a1a1a" stroke="#1a1a1a" stroke-width="0.3" font-weight="bold">0</text>
<text x="413.7" y="375.5" font-size="6.9" text-anchor="middle" fill="#1a1a1a" stroke="#1a1a1a" stroke-width="0.3" font-weight="bold">500</text>
<text x="446.3" y="375.5" font-size="6.9" text-anchor="middle" fill="#1a1a1a" stroke="#1a1a1a" stroke-width="0.3" font-weight="bold">1000</text>
<text x="478.9" y="375.5" font-size="6.9" text-anchor="middle" fill="#1a1a1a" stroke="#1a1a1a" stroke-width="0.3" font-weight="bold">1500</text>
<text x="511.5" y="375.5" font-size="6.9" text-anchor="middle" fill="#1a1a1a" stroke="#1a1a1a" stroke-width="0.3" font-weight="bold">2000</text>
<text x="447.2" y="381.7" font-size="6.8" text-anchor="middle" fill="#1a1a1a" stroke="#1a1a1a" stroke-width="0.3" font-weight="bold" textLength="26.9" lengthAdjust="spacingAndGlyphs">Time (ps)</text>
<text x="363.5" y="312.5" font-size="6.7" text-anchor="middle" fill="#1a1a1a" stroke="#1a1a1a" stroke-width="0.3" font-weight="bold" transform="rotate(-90 363.5 312.5)">Intensity (counts)</text>
<line x1="438.7" y1="267.6" x2="455.1" y2="267.6" stroke="#6fd58a" stroke-width="1.3"/>
<line x1="438.7" y1="276.6" x2="455.1" y2="276.6" stroke="#4040b8" stroke-width="1.3"/>
<text x="456.8" y="270.2" font-size="6.85" text-anchor="start" fill="#1a1a1a" stroke="#1a1a1a" stroke-width="0.3" font-weight="bold">Fitted curve of S1</text>
<text x="456.8" y="279" font-size="6.85" text-anchor="start" fill="#1a1a1a" stroke="#1a1a1a" stroke-width="0.3" font-weight="bold">Fitted curve of S2</text>
<text x="459.4" y="310.1" font-size="6.9" text-anchor="start" fill="#3a3ab4" stroke="#3a3ab4" stroke-width="0.3" font-weight="bold">τ=1.25 ns</text>
<text x="436.6" y="346" font-size="6.9" text-anchor="start" fill="#5acc5a" stroke="#5acc5a" stroke-width="0.3" font-weight="bold">τ=1.78 ns</text>
<text x="354" y="267.4" font-size="11" font-weight="bold" fill="#111" stroke="#111" stroke-width="0.5" letter-spacing="0.3">(g)</text>
</svg>
</body></html>
